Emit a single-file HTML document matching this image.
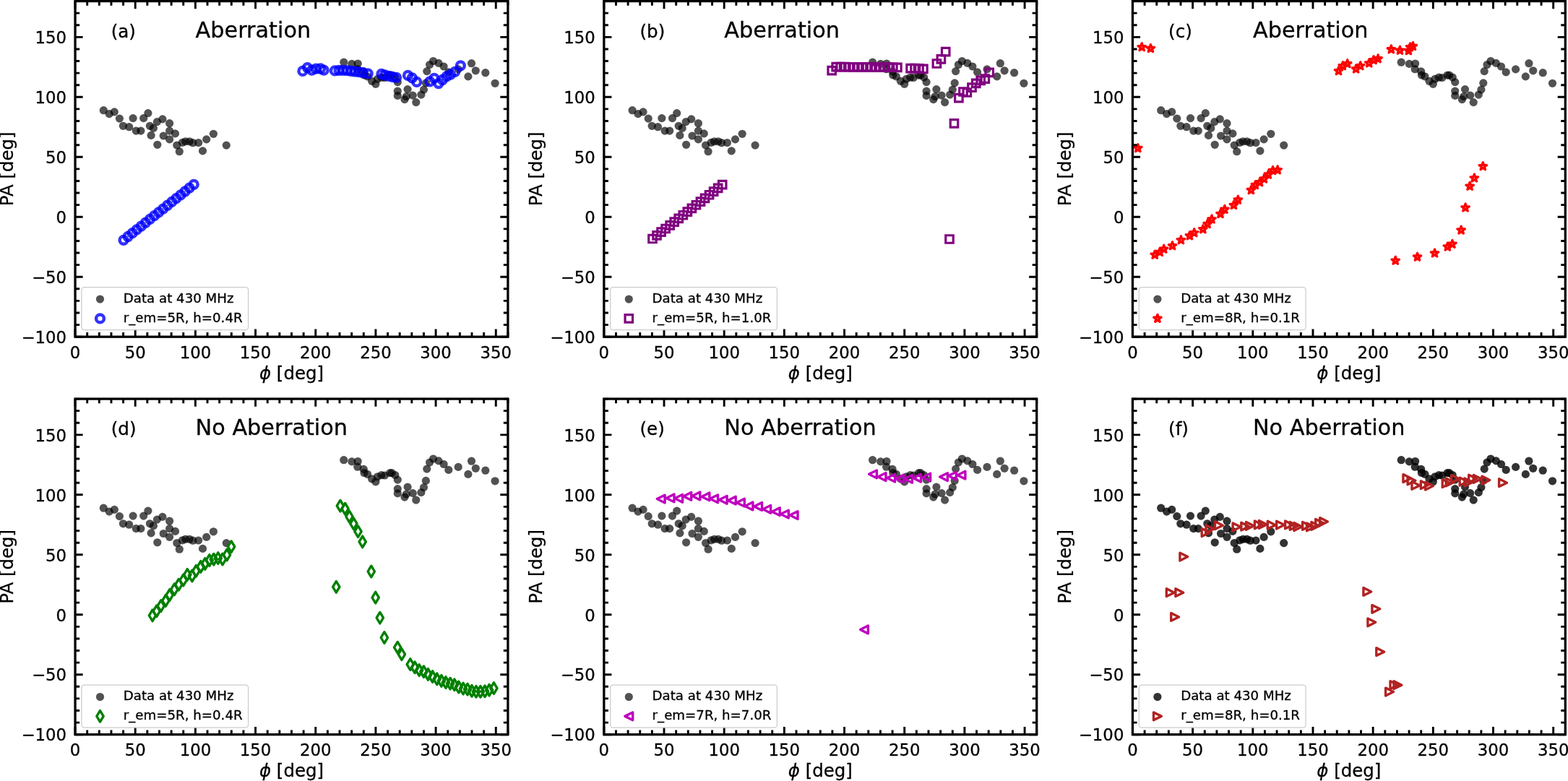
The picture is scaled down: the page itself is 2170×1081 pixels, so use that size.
<!DOCTYPE html>
<html><head><meta charset="utf-8"><title>PA vs phi</title><style>html,body{margin:0;padding:0;background:#fff;overflow:hidden}svg{display:block}</style></head><body>
<svg width="2170" height="1081" viewBox="0 0 2170 1081" font-family="'DejaVu Sans', sans-serif">
<rect width="2170" height="1081" fill="#ffffff"/>
<style>text{stroke:#000;stroke-width:0.3px;paint-order:stroke}</style>
<defs>
<clipPath id="clip00"><rect x="104.05" y="1.58" width="598.86" height="464.6"/></clipPath>
<clipPath id="clip01"><rect x="104.05" y="552.08" width="598.86" height="464.6"/></clipPath>
<clipPath id="clip10"><rect x="835.85" y="1.58" width="598.86" height="464.6"/></clipPath>
<clipPath id="clip11"><rect x="835.85" y="552.08" width="598.86" height="464.6"/></clipPath>
<clipPath id="clip20"><rect x="1567.45" y="1.58" width="598.86" height="464.6"/></clipPath>
<clipPath id="clip21"><rect x="1567.45" y="552.08" width="598.86" height="464.6"/></clipPath>
</defs>
<g clip-path="url(#clip00)">
<circle cx="143.3" cy="152.7" r="5.6" fill="#000" fill-opacity="0.68"/>
<circle cx="151.2" cy="157.6" r="5.6" fill="#000" fill-opacity="0.68"/>
<circle cx="158.3" cy="154.9" r="5.6" fill="#000" fill-opacity="0.68"/>
<circle cx="165.4" cy="164.1" r="5.6" fill="#000" fill-opacity="0.68"/>
<circle cx="184.1" cy="163.6" r="5.6" fill="#000" fill-opacity="0.68"/>
<circle cx="170.4" cy="174.3" r="5.6" fill="#000" fill-opacity="0.68"/>
<circle cx="178.7" cy="175.7" r="5.6" fill="#000" fill-opacity="0.68"/>
<circle cx="188.3" cy="181.1" r="5.6" fill="#000" fill-opacity="0.68"/>
<circle cx="194.9" cy="181.1" r="5.6" fill="#000" fill-opacity="0.68"/>
<circle cx="198.7" cy="163.6" r="5.6" fill="#000" fill-opacity="0.68"/>
<circle cx="204.9" cy="156.6" r="5.6" fill="#000" fill-opacity="0.68"/>
<circle cx="207.4" cy="174.3" r="5.6" fill="#000" fill-opacity="0.68"/>
<circle cx="212.4" cy="177.4" r="5.6" fill="#000" fill-opacity="0.68"/>
<circle cx="209.1" cy="187.4" r="5.6" fill="#000" fill-opacity="0.68"/>
<circle cx="217.4" cy="168.6" r="5.6" fill="#000" fill-opacity="0.68"/>
<circle cx="217.8" cy="200.3" r="5.6" fill="#000" fill-opacity="0.68"/>
<circle cx="224.9" cy="164.9" r="5.6" fill="#000" fill-opacity="0.68"/>
<circle cx="226.2" cy="188" r="5.6" fill="#000" fill-opacity="0.68"/>
<circle cx="234.6" cy="170.7" r="5.6" fill="#000" fill-opacity="0.68"/>
<circle cx="234.6" cy="181.1" r="5.6" fill="#000" fill-opacity="0.68"/>
<circle cx="242.5" cy="184.9" r="5.6" fill="#000" fill-opacity="0.68"/>
<circle cx="234.6" cy="192.8" r="5.6" fill="#000" fill-opacity="0.68"/>
<circle cx="244.8" cy="201" r="5.6" fill="#000" fill-opacity="0.68"/>
<circle cx="248.3" cy="209.7" r="5.6" fill="#000" fill-opacity="0.68"/>
<circle cx="252.4" cy="197.3" r="5.6" fill="#000" fill-opacity="0.68"/>
<circle cx="256.8" cy="195.8" r="5.6" fill="#000" fill-opacity="0.68"/>
<circle cx="262.3" cy="195.8" r="5.6" fill="#000" fill-opacity="0.68"/>
<circle cx="266.9" cy="197.7" r="5.6" fill="#000" fill-opacity="0.68"/>
<circle cx="274.6" cy="197.5" r="5.6" fill="#000" fill-opacity="0.68"/>
<circle cx="280.5" cy="208.9" r="5.6" fill="#000" fill-opacity="0.68"/>
<circle cx="285.7" cy="192.9" r="5.6" fill="#000" fill-opacity="0.68"/>
<circle cx="295.4" cy="185.3" r="5.6" fill="#000" fill-opacity="0.68"/>
<circle cx="313.3" cy="201.1" r="5.6" fill="#000" fill-opacity="0.68"/>
<circle cx="475.8" cy="86.2" r="5.6" fill="#000" fill-opacity="0.68"/>
<circle cx="486.9" cy="88.4" r="5.6" fill="#000" fill-opacity="0.68"/>
<circle cx="495.2" cy="88" r="5.6" fill="#000" fill-opacity="0.68"/>
<circle cx="494.8" cy="95.7" r="5.6" fill="#000" fill-opacity="0.68"/>
<circle cx="503.3" cy="98.9" r="5.6" fill="#000" fill-opacity="0.68"/>
<circle cx="504" cy="104" r="5.6" fill="#000" fill-opacity="0.68"/>
<circle cx="508.5" cy="105.8" r="5.6" fill="#000" fill-opacity="0.68"/>
<circle cx="514.6" cy="112.3" r="5.6" fill="#000" fill-opacity="0.68"/>
<circle cx="519.9" cy="116.3" r="5.6" fill="#000" fill-opacity="0.68"/>
<circle cx="522.5" cy="109.3" r="5.6" fill="#000" fill-opacity="0.68"/>
<circle cx="527.9" cy="107.2" r="5.6" fill="#000" fill-opacity="0.68"/>
<circle cx="532.4" cy="107.5" r="5.6" fill="#000" fill-opacity="0.68"/>
<circle cx="539.6" cy="104.1" r="5.6" fill="#000" fill-opacity="0.68"/>
<circle cx="542.4" cy="104.1" r="5.6" fill="#000" fill-opacity="0.68"/>
<circle cx="546.8" cy="107" r="5.6" fill="#000" fill-opacity="0.68"/>
<circle cx="550.3" cy="113.6" r="5.6" fill="#000" fill-opacity="0.68"/>
<circle cx="550.3" cy="126.1" r="5.6" fill="#000" fill-opacity="0.68"/>
<circle cx="550.3" cy="132.4" r="5.6" fill="#000" fill-opacity="0.68"/>
<circle cx="564.1" cy="123.6" r="5.6" fill="#000" fill-opacity="0.68"/>
<circle cx="562.3" cy="133.5" r="5.6" fill="#000" fill-opacity="0.68"/>
<circle cx="560" cy="137.6" r="5.6" fill="#000" fill-opacity="0.68"/>
<circle cx="571.3" cy="132.1" r="5.6" fill="#000" fill-opacity="0.68"/>
<circle cx="575.8" cy="141.6" r="5.6" fill="#000" fill-opacity="0.68"/>
<circle cx="582.9" cy="131.1" r="5.6" fill="#000" fill-opacity="0.68"/>
<circle cx="586.5" cy="124.1" r="5.6" fill="#000" fill-opacity="0.68"/>
<circle cx="589.4" cy="114.9" r="5.6" fill="#000" fill-opacity="0.68"/>
<circle cx="590.8" cy="98.6" r="5.6" fill="#000" fill-opacity="0.68"/>
<circle cx="594.6" cy="89.5" r="5.6" fill="#000" fill-opacity="0.68"/>
<circle cx="599.6" cy="84.5" r="5.6" fill="#000" fill-opacity="0.68"/>
<circle cx="607" cy="87.4" r="5.6" fill="#000" fill-opacity="0.68"/>
<circle cx="614.1" cy="92" r="5.6" fill="#000" fill-opacity="0.68"/>
<circle cx="620.8" cy="99.9" r="5.6" fill="#000" fill-opacity="0.68"/>
<circle cx="634.2" cy="95.9" r="5.6" fill="#000" fill-opacity="0.68"/>
<circle cx="652.5" cy="87.7" r="5.6" fill="#000" fill-opacity="0.68"/>
<circle cx="658.3" cy="97.8" r="5.6" fill="#000" fill-opacity="0.68"/>
<circle cx="647.9" cy="105.9" r="5.6" fill="#000" fill-opacity="0.68"/>
<circle cx="671.8" cy="100.7" r="5.6" fill="#000" fill-opacity="0.68"/>
<circle cx="685.1" cy="115.3" r="5.6" fill="#000" fill-opacity="0.68"/>
<circle cx="171" cy="332.3" r="5.4" fill="none" stroke="#0000ff" stroke-width="4.5" stroke-opacity="0.8"/>
<circle cx="177.07" cy="327.49" r="5.4" fill="none" stroke="#0000ff" stroke-width="4.5" stroke-opacity="0.8"/>
<circle cx="183.15" cy="322.69" r="5.4" fill="none" stroke="#0000ff" stroke-width="4.5" stroke-opacity="0.8"/>
<circle cx="189.22" cy="317.88" r="5.4" fill="none" stroke="#0000ff" stroke-width="4.5" stroke-opacity="0.8"/>
<circle cx="195.3" cy="313.07" r="5.4" fill="none" stroke="#0000ff" stroke-width="4.5" stroke-opacity="0.8"/>
<circle cx="201.38" cy="308.27" r="5.4" fill="none" stroke="#0000ff" stroke-width="4.5" stroke-opacity="0.8"/>
<circle cx="207.45" cy="303.46" r="5.4" fill="none" stroke="#0000ff" stroke-width="4.5" stroke-opacity="0.8"/>
<circle cx="213.52" cy="298.66" r="5.4" fill="none" stroke="#0000ff" stroke-width="4.5" stroke-opacity="0.8"/>
<circle cx="219.6" cy="293.85" r="5.4" fill="none" stroke="#0000ff" stroke-width="4.5" stroke-opacity="0.8"/>
<circle cx="225.68" cy="289.04" r="5.4" fill="none" stroke="#0000ff" stroke-width="4.5" stroke-opacity="0.8"/>
<circle cx="231.75" cy="284.24" r="5.4" fill="none" stroke="#0000ff" stroke-width="4.5" stroke-opacity="0.8"/>
<circle cx="237.82" cy="279.43" r="5.4" fill="none" stroke="#0000ff" stroke-width="4.5" stroke-opacity="0.8"/>
<circle cx="243.9" cy="274.62" r="5.4" fill="none" stroke="#0000ff" stroke-width="4.5" stroke-opacity="0.8"/>
<circle cx="249.97" cy="269.82" r="5.4" fill="none" stroke="#0000ff" stroke-width="4.5" stroke-opacity="0.8"/>
<circle cx="256.05" cy="265.01" r="5.4" fill="none" stroke="#0000ff" stroke-width="4.5" stroke-opacity="0.8"/>
<circle cx="262.12" cy="260.21" r="5.4" fill="none" stroke="#0000ff" stroke-width="4.5" stroke-opacity="0.8"/>
<circle cx="268.2" cy="255.4" r="5.4" fill="none" stroke="#0000ff" stroke-width="4.5" stroke-opacity="0.8"/>
<circle cx="418.9" cy="98.4" r="5.4" fill="none" stroke="#0000ff" stroke-width="4.5" stroke-opacity="0.8"/>
<circle cx="425.4" cy="93.6" r="5.4" fill="none" stroke="#0000ff" stroke-width="4.5" stroke-opacity="0.8"/>
<circle cx="431.6" cy="97.2" r="5.4" fill="none" stroke="#0000ff" stroke-width="4.5" stroke-opacity="0.8"/>
<circle cx="437.4" cy="95.2" r="5.4" fill="none" stroke="#0000ff" stroke-width="4.5" stroke-opacity="0.8"/>
<circle cx="443.5" cy="95" r="5.4" fill="none" stroke="#0000ff" stroke-width="4.5" stroke-opacity="0.8"/>
<circle cx="448.2" cy="97.2" r="5.4" fill="none" stroke="#0000ff" stroke-width="4.5" stroke-opacity="0.8"/>
<circle cx="463.4" cy="97.9" r="5.4" fill="none" stroke="#0000ff" stroke-width="4.5" stroke-opacity="0.8"/>
<circle cx="469.1" cy="97.4" r="5.4" fill="none" stroke="#0000ff" stroke-width="4.5" stroke-opacity="0.8"/>
<circle cx="474.7" cy="97.4" r="5.4" fill="none" stroke="#0000ff" stroke-width="4.5" stroke-opacity="0.8"/>
<circle cx="480.2" cy="97.7" r="5.4" fill="none" stroke="#0000ff" stroke-width="4.5" stroke-opacity="0.8"/>
<circle cx="485.7" cy="98.3" r="5.4" fill="none" stroke="#0000ff" stroke-width="4.5" stroke-opacity="0.8"/>
<circle cx="491.2" cy="99" r="5.4" fill="none" stroke="#0000ff" stroke-width="4.5" stroke-opacity="0.8"/>
<circle cx="496.8" cy="99.7" r="5.4" fill="none" stroke="#0000ff" stroke-width="4.5" stroke-opacity="0.8"/>
<circle cx="502.3" cy="100.7" r="5.4" fill="none" stroke="#0000ff" stroke-width="4.5" stroke-opacity="0.8"/>
<circle cx="509.2" cy="101.8" r="5.4" fill="none" stroke="#0000ff" stroke-width="4.5" stroke-opacity="0.8"/>
<circle cx="527.9" cy="102.5" r="5.4" fill="none" stroke="#0000ff" stroke-width="4.5" stroke-opacity="0.8"/>
<circle cx="532.7" cy="103.9" r="5.4" fill="none" stroke="#0000ff" stroke-width="4.5" stroke-opacity="0.8"/>
<circle cx="538.3" cy="105.3" r="5.4" fill="none" stroke="#0000ff" stroke-width="4.5" stroke-opacity="0.8"/>
<circle cx="543.8" cy="106.6" r="5.4" fill="none" stroke="#0000ff" stroke-width="4.5" stroke-opacity="0.8"/>
<circle cx="548.6" cy="107.3" r="5.4" fill="none" stroke="#0000ff" stroke-width="4.5" stroke-opacity="0.8"/>
<circle cx="564.5" cy="104.4" r="5.4" fill="none" stroke="#0000ff" stroke-width="4.5" stroke-opacity="0.8"/>
<circle cx="570.4" cy="107.8" r="5.4" fill="none" stroke="#0000ff" stroke-width="4.5" stroke-opacity="0.8"/>
<circle cx="576.7" cy="113.4" r="5.4" fill="none" stroke="#0000ff" stroke-width="4.5" stroke-opacity="0.8"/>
<circle cx="594.8" cy="112.8" r="5.4" fill="none" stroke="#0000ff" stroke-width="4.5" stroke-opacity="0.8"/>
<circle cx="600.9" cy="108.4" r="5.4" fill="none" stroke="#0000ff" stroke-width="4.5" stroke-opacity="0.8"/>
<circle cx="606.9" cy="115.5" r="5.4" fill="none" stroke="#0000ff" stroke-width="4.5" stroke-opacity="0.8"/>
<circle cx="612.4" cy="110.5" r="5.4" fill="none" stroke="#0000ff" stroke-width="4.5" stroke-opacity="0.8"/>
<circle cx="618" cy="105.9" r="5.4" fill="none" stroke="#0000ff" stroke-width="4.5" stroke-opacity="0.8"/>
<circle cx="623.5" cy="103.1" r="5.4" fill="none" stroke="#0000ff" stroke-width="4.5" stroke-opacity="0.8"/>
<circle cx="629.6" cy="99.4" r="5.4" fill="none" stroke="#0000ff" stroke-width="4.5" stroke-opacity="0.8"/>
<circle cx="637.4" cy="90.8" r="5.4" fill="none" stroke="#0000ff" stroke-width="4.5" stroke-opacity="0.8"/>
</g>
<path d="M104.05 466.18v-10.6M104.05 1.58v10.6M120.69 466.18v-6.1M120.69 1.58v6.1M137.32 466.18v-6.1M137.32 1.58v6.1M153.95 466.18v-6.1M153.95 1.58v6.1M170.59 466.18v-6.1M170.59 1.58v6.1M187.22 466.18v-10.6M187.22 1.58v10.6M203.86 466.18v-6.1M203.86 1.58v6.1M220.5 466.18v-6.1M220.5 1.58v6.1M237.13 466.18v-6.1M237.13 1.58v6.1M253.76 466.18v-6.1M253.76 1.58v6.1M270.4 466.18v-10.6M270.4 1.58v10.6M287.03 466.18v-6.1M287.03 1.58v6.1M303.67 466.18v-6.1M303.67 1.58v6.1M320.31 466.18v-6.1M320.31 1.58v6.1M336.94 466.18v-6.1M336.94 1.58v6.1M353.57 466.18v-10.6M353.57 1.58v10.6M370.21 466.18v-6.1M370.21 1.58v6.1M386.85 466.18v-6.1M386.85 1.58v6.1M403.48 466.18v-6.1M403.48 1.58v6.1M420.12 466.18v-6.1M420.12 1.58v6.1M436.75 466.18v-10.6M436.75 1.58v10.6M453.38 466.18v-6.1M453.38 1.58v6.1M470.02 466.18v-6.1M470.02 1.58v6.1M486.66 466.18v-6.1M486.66 1.58v6.1M503.29 466.18v-6.1M503.29 1.58v6.1M519.92 466.18v-10.6M519.92 1.58v10.6M536.56 466.18v-6.1M536.56 1.58v6.1M553.19 466.18v-6.1M553.19 1.58v6.1M569.83 466.18v-6.1M569.83 1.58v6.1M586.47 466.18v-6.1M586.47 1.58v6.1M603.1 466.18v-10.6M603.1 1.58v10.6M619.73 466.18v-6.1M619.73 1.58v6.1M636.37 466.18v-6.1M636.37 1.58v6.1M653 466.18v-6.1M653 1.58v6.1M669.64 466.18v-6.1M669.64 1.58v6.1M686.27 466.18v-10.6M686.27 1.58v10.6M702.91 466.18v-6.1M702.91 1.58v6.1M104.05 466.18h10.6M702.91 466.18h-10.6M104.05 449.59h6.1M702.91 449.59h-6.1M104.05 432.99h6.1M702.91 432.99h-6.1M104.05 416.4h6.1M702.91 416.4h-6.1M104.05 399.81h6.1M702.91 399.81h-6.1M104.05 383.22h10.6M702.91 383.22h-10.6M104.05 366.62h6.1M702.91 366.62h-6.1M104.05 350.03h6.1M702.91 350.03h-6.1M104.05 333.44h6.1M702.91 333.44h-6.1M104.05 316.84h6.1M702.91 316.84h-6.1M104.05 300.25h10.6M702.91 300.25h-10.6M104.05 283.66h6.1M702.91 283.66h-6.1M104.05 267.06h6.1M702.91 267.06h-6.1M104.05 250.47h6.1M702.91 250.47h-6.1M104.05 233.88h6.1M702.91 233.88h-6.1M104.05 217.28h10.6M702.91 217.28h-10.6M104.05 200.69h6.1M702.91 200.69h-6.1M104.05 184.1h6.1M702.91 184.1h-6.1M104.05 167.51h6.1M702.91 167.51h-6.1M104.05 150.91h6.1M702.91 150.91h-6.1M104.05 134.32h10.6M702.91 134.32h-10.6M104.05 117.73h6.1M702.91 117.73h-6.1M104.05 101.13h6.1M702.91 101.13h-6.1M104.05 84.54h6.1M702.91 84.54h-6.1M104.05 67.95h6.1M702.91 67.95h-6.1M104.05 51.35h10.6M702.91 51.35h-10.6M104.05 34.76h6.1M702.91 34.76h-6.1M104.05 18.17h6.1M702.91 18.17h-6.1M104.05 1.58h6.1M702.91 1.58h-6.1" stroke="#000" stroke-width="2.9" fill="none"/>
<rect x="104.05" y="1.58" width="598.86" height="464.6" fill="none" stroke="#000" stroke-width="3.3" stroke-linejoin="miter"/>
<text x="104.05" y="495.98" font-size="22.8" text-anchor="middle">0</text>
<text x="187.22" y="495.98" font-size="22.8" text-anchor="middle">50</text>
<text x="270.4" y="495.98" font-size="22.8" text-anchor="middle">100</text>
<text x="353.57" y="495.98" font-size="22.8" text-anchor="middle">150</text>
<text x="436.75" y="495.98" font-size="22.8" text-anchor="middle">200</text>
<text x="519.92" y="495.98" font-size="22.8" text-anchor="middle">250</text>
<text x="603.1" y="495.98" font-size="22.8" text-anchor="middle">300</text>
<text x="686.27" y="495.98" font-size="22.8" text-anchor="middle">350</text>
<text x="92" y="474.93" font-size="22.8" text-anchor="end">−100</text>
<text x="92" y="391.97" font-size="22.8" text-anchor="end">−50</text>
<text x="92" y="309" font-size="22.8" text-anchor="end">0</text>
<text x="92" y="226.03" font-size="22.8" text-anchor="end">50</text>
<text x="92" y="143.07" font-size="22.8" text-anchor="end">100</text>
<text x="92" y="60.1" font-size="22.8" text-anchor="end">150</text>
<text x="403.48" y="524.58" font-size="24.45" text-anchor="middle"><tspan font-style="italic">ϕ</tspan> [deg]</text>
<text transform="translate(18.3 233.88) rotate(-90)" font-size="24.45" text-anchor="middle">PA [deg]</text>
<text x="153.7" y="51.88" font-size="24.6">(a)</text>
<text x="270.55" y="51.88" font-size="30.3">Aberration</text>
<rect x="112.9" y="397.68" width="230.7" height="59" rx="3.6" ry="3.6" fill="#fff" fill-opacity="0.8" stroke="#cccccc" stroke-width="1.25"/>
<circle cx="138.5" cy="414.08" r="5.6" fill="#000" fill-opacity="0.68"/>
<circle cx="138.5" cy="440.88" r="5.4" fill="none" stroke="#0000ff" stroke-width="4.5" stroke-opacity="0.8"/>
<text x="170.8" y="418.78" font-size="18.2">Data at 430 MHz</text>
<text x="170.8" y="445.88" font-size="18.2">r_em=5R, h=0.4R</text>
<g clip-path="url(#clip10)">
<circle cx="875.1" cy="152.7" r="5.6" fill="#000" fill-opacity="0.68"/>
<circle cx="883" cy="157.6" r="5.6" fill="#000" fill-opacity="0.68"/>
<circle cx="890.1" cy="154.9" r="5.6" fill="#000" fill-opacity="0.68"/>
<circle cx="897.2" cy="164.1" r="5.6" fill="#000" fill-opacity="0.68"/>
<circle cx="915.9" cy="163.6" r="5.6" fill="#000" fill-opacity="0.68"/>
<circle cx="902.2" cy="174.3" r="5.6" fill="#000" fill-opacity="0.68"/>
<circle cx="910.5" cy="175.7" r="5.6" fill="#000" fill-opacity="0.68"/>
<circle cx="920.1" cy="181.1" r="5.6" fill="#000" fill-opacity="0.68"/>
<circle cx="926.7" cy="181.1" r="5.6" fill="#000" fill-opacity="0.68"/>
<circle cx="930.5" cy="163.6" r="5.6" fill="#000" fill-opacity="0.68"/>
<circle cx="936.7" cy="156.6" r="5.6" fill="#000" fill-opacity="0.68"/>
<circle cx="939.2" cy="174.3" r="5.6" fill="#000" fill-opacity="0.68"/>
<circle cx="944.2" cy="177.4" r="5.6" fill="#000" fill-opacity="0.68"/>
<circle cx="940.9" cy="187.4" r="5.6" fill="#000" fill-opacity="0.68"/>
<circle cx="949.2" cy="168.6" r="5.6" fill="#000" fill-opacity="0.68"/>
<circle cx="949.6" cy="200.3" r="5.6" fill="#000" fill-opacity="0.68"/>
<circle cx="956.7" cy="164.9" r="5.6" fill="#000" fill-opacity="0.68"/>
<circle cx="958" cy="188" r="5.6" fill="#000" fill-opacity="0.68"/>
<circle cx="966.4" cy="170.7" r="5.6" fill="#000" fill-opacity="0.68"/>
<circle cx="966.4" cy="181.1" r="5.6" fill="#000" fill-opacity="0.68"/>
<circle cx="974.3" cy="184.9" r="5.6" fill="#000" fill-opacity="0.68"/>
<circle cx="966.4" cy="192.8" r="5.6" fill="#000" fill-opacity="0.68"/>
<circle cx="976.6" cy="201" r="5.6" fill="#000" fill-opacity="0.68"/>
<circle cx="980.1" cy="209.7" r="5.6" fill="#000" fill-opacity="0.68"/>
<circle cx="984.2" cy="197.3" r="5.6" fill="#000" fill-opacity="0.68"/>
<circle cx="988.6" cy="195.8" r="5.6" fill="#000" fill-opacity="0.68"/>
<circle cx="994.1" cy="195.8" r="5.6" fill="#000" fill-opacity="0.68"/>
<circle cx="998.7" cy="197.7" r="5.6" fill="#000" fill-opacity="0.68"/>
<circle cx="1006.4" cy="197.5" r="5.6" fill="#000" fill-opacity="0.68"/>
<circle cx="1012.3" cy="208.9" r="5.6" fill="#000" fill-opacity="0.68"/>
<circle cx="1017.5" cy="192.9" r="5.6" fill="#000" fill-opacity="0.68"/>
<circle cx="1027.2" cy="185.3" r="5.6" fill="#000" fill-opacity="0.68"/>
<circle cx="1045.1" cy="201.1" r="5.6" fill="#000" fill-opacity="0.68"/>
<circle cx="1207.6" cy="86.2" r="5.6" fill="#000" fill-opacity="0.68"/>
<circle cx="1218.7" cy="88.4" r="5.6" fill="#000" fill-opacity="0.68"/>
<circle cx="1227" cy="88" r="5.6" fill="#000" fill-opacity="0.68"/>
<circle cx="1226.6" cy="95.7" r="5.6" fill="#000" fill-opacity="0.68"/>
<circle cx="1235.1" cy="98.9" r="5.6" fill="#000" fill-opacity="0.68"/>
<circle cx="1235.8" cy="104" r="5.6" fill="#000" fill-opacity="0.68"/>
<circle cx="1240.3" cy="105.8" r="5.6" fill="#000" fill-opacity="0.68"/>
<circle cx="1246.4" cy="112.3" r="5.6" fill="#000" fill-opacity="0.68"/>
<circle cx="1251.7" cy="116.3" r="5.6" fill="#000" fill-opacity="0.68"/>
<circle cx="1254.3" cy="109.3" r="5.6" fill="#000" fill-opacity="0.68"/>
<circle cx="1259.7" cy="107.2" r="5.6" fill="#000" fill-opacity="0.68"/>
<circle cx="1264.2" cy="107.5" r="5.6" fill="#000" fill-opacity="0.68"/>
<circle cx="1271.4" cy="104.1" r="5.6" fill="#000" fill-opacity="0.68"/>
<circle cx="1274.2" cy="104.1" r="5.6" fill="#000" fill-opacity="0.68"/>
<circle cx="1278.6" cy="107" r="5.6" fill="#000" fill-opacity="0.68"/>
<circle cx="1282.1" cy="113.6" r="5.6" fill="#000" fill-opacity="0.68"/>
<circle cx="1282.1" cy="126.1" r="5.6" fill="#000" fill-opacity="0.68"/>
<circle cx="1282.1" cy="132.4" r="5.6" fill="#000" fill-opacity="0.68"/>
<circle cx="1295.9" cy="123.6" r="5.6" fill="#000" fill-opacity="0.68"/>
<circle cx="1294.1" cy="133.5" r="5.6" fill="#000" fill-opacity="0.68"/>
<circle cx="1291.8" cy="137.6" r="5.6" fill="#000" fill-opacity="0.68"/>
<circle cx="1303.1" cy="132.1" r="5.6" fill="#000" fill-opacity="0.68"/>
<circle cx="1307.6" cy="141.6" r="5.6" fill="#000" fill-opacity="0.68"/>
<circle cx="1314.7" cy="131.1" r="5.6" fill="#000" fill-opacity="0.68"/>
<circle cx="1318.3" cy="124.1" r="5.6" fill="#000" fill-opacity="0.68"/>
<circle cx="1321.2" cy="114.9" r="5.6" fill="#000" fill-opacity="0.68"/>
<circle cx="1322.6" cy="98.6" r="5.6" fill="#000" fill-opacity="0.68"/>
<circle cx="1326.4" cy="89.5" r="5.6" fill="#000" fill-opacity="0.68"/>
<circle cx="1331.4" cy="84.5" r="5.6" fill="#000" fill-opacity="0.68"/>
<circle cx="1338.8" cy="87.4" r="5.6" fill="#000" fill-opacity="0.68"/>
<circle cx="1345.9" cy="92" r="5.6" fill="#000" fill-opacity="0.68"/>
<circle cx="1352.6" cy="99.9" r="5.6" fill="#000" fill-opacity="0.68"/>
<circle cx="1366" cy="95.9" r="5.6" fill="#000" fill-opacity="0.68"/>
<circle cx="1384.3" cy="87.7" r="5.6" fill="#000" fill-opacity="0.68"/>
<circle cx="1390.1" cy="97.8" r="5.6" fill="#000" fill-opacity="0.68"/>
<circle cx="1379.7" cy="105.9" r="5.6" fill="#000" fill-opacity="0.68"/>
<circle cx="1403.6" cy="100.7" r="5.6" fill="#000" fill-opacity="0.68"/>
<circle cx="1416.9" cy="115.3" r="5.6" fill="#000" fill-opacity="0.68"/>
<path d="M897.75 325.25 L908.25 325.25 L908.25 335.75 L897.75 335.75 Z" fill="none" stroke="#800080" stroke-width="3.2" stroke-linejoin="miter"/>
<path d="M903.79 320.57 L914.29 320.57 L914.29 331.07 L903.79 331.07 Z" fill="none" stroke="#800080" stroke-width="3.2" stroke-linejoin="miter"/>
<path d="M909.84 315.9 L920.34 315.9 L920.34 326.4 L909.84 326.4 Z" fill="none" stroke="#800080" stroke-width="3.2" stroke-linejoin="miter"/>
<path d="M915.88 311.23 L926.38 311.23 L926.38 321.73 L915.88 321.73 Z" fill="none" stroke="#800080" stroke-width="3.2" stroke-linejoin="miter"/>
<path d="M921.92 306.55 L932.42 306.55 L932.42 317.05 L921.92 317.05 Z" fill="none" stroke="#800080" stroke-width="3.2" stroke-linejoin="miter"/>
<path d="M927.97 301.88 L938.47 301.88 L938.47 312.38 L927.97 312.38 Z" fill="none" stroke="#800080" stroke-width="3.2" stroke-linejoin="miter"/>
<path d="M934.01 297.2 L944.51 297.2 L944.51 307.7 L934.01 307.7 Z" fill="none" stroke="#800080" stroke-width="3.2" stroke-linejoin="miter"/>
<path d="M940.06 292.52 L950.56 292.52 L950.56 303.02 L940.06 303.02 Z" fill="none" stroke="#800080" stroke-width="3.2" stroke-linejoin="miter"/>
<path d="M946.1 287.85 L956.6 287.85 L956.6 298.35 L946.1 298.35 Z" fill="none" stroke="#800080" stroke-width="3.2" stroke-linejoin="miter"/>
<path d="M952.14 283.18 L962.64 283.18 L962.64 293.68 L952.14 293.68 Z" fill="none" stroke="#800080" stroke-width="3.2" stroke-linejoin="miter"/>
<path d="M958.19 278.5 L968.69 278.5 L968.69 289 L958.19 289 Z" fill="none" stroke="#800080" stroke-width="3.2" stroke-linejoin="miter"/>
<path d="M964.23 273.82 L974.73 273.82 L974.73 284.32 L964.23 284.32 Z" fill="none" stroke="#800080" stroke-width="3.2" stroke-linejoin="miter"/>
<path d="M970.28 269.15 L980.78 269.15 L980.78 279.65 L970.28 279.65 Z" fill="none" stroke="#800080" stroke-width="3.2" stroke-linejoin="miter"/>
<path d="M976.32 264.48 L986.82 264.48 L986.82 274.98 L976.32 274.98 Z" fill="none" stroke="#800080" stroke-width="3.2" stroke-linejoin="miter"/>
<path d="M982.36 259.8 L992.86 259.8 L992.86 270.3 L982.36 270.3 Z" fill="none" stroke="#800080" stroke-width="3.2" stroke-linejoin="miter"/>
<path d="M988.41 255.12 L998.91 255.12 L998.91 265.62 L988.41 265.62 Z" fill="none" stroke="#800080" stroke-width="3.2" stroke-linejoin="miter"/>
<path d="M994.45 250.45 L1004.95 250.45 L1004.95 260.95 L994.45 260.95 Z" fill="none" stroke="#800080" stroke-width="3.2" stroke-linejoin="miter"/>
<path d="M1145.95 92.45 L1156.45 92.45 L1156.45 102.95 L1145.95 102.95 Z" fill="none" stroke="#800080" stroke-width="3.2" stroke-linejoin="miter"/>
<path d="M1151.95 87.35 L1162.45 87.35 L1162.45 97.85 L1151.95 97.85 Z" fill="none" stroke="#800080" stroke-width="3.2" stroke-linejoin="miter"/>
<path d="M1158 87.4 L1168.5 87.4 L1168.5 97.9 L1158 97.9 Z" fill="none" stroke="#800080" stroke-width="3.2" stroke-linejoin="miter"/>
<path d="M1164.05 87.45 L1174.55 87.45 L1174.55 97.95 L1164.05 97.95 Z" fill="none" stroke="#800080" stroke-width="3.2" stroke-linejoin="miter"/>
<path d="M1170.1 87.5 L1180.6 87.5 L1180.6 98 L1170.1 98 Z" fill="none" stroke="#800080" stroke-width="3.2" stroke-linejoin="miter"/>
<path d="M1176.15 87.55 L1186.65 87.55 L1186.65 98.05 L1176.15 98.05 Z" fill="none" stroke="#800080" stroke-width="3.2" stroke-linejoin="miter"/>
<path d="M1182.2 87.6 L1192.7 87.6 L1192.7 98.1 L1182.2 98.1 Z" fill="none" stroke="#800080" stroke-width="3.2" stroke-linejoin="miter"/>
<path d="M1188.25 87.65 L1198.75 87.65 L1198.75 98.15 L1188.25 98.15 Z" fill="none" stroke="#800080" stroke-width="3.2" stroke-linejoin="miter"/>
<path d="M1194.3 87.7 L1204.8 87.7 L1204.8 98.2 L1194.3 98.2 Z" fill="none" stroke="#800080" stroke-width="3.2" stroke-linejoin="miter"/>
<path d="M1200.35 87.75 L1210.85 87.75 L1210.85 98.25 L1200.35 98.25 Z" fill="none" stroke="#800080" stroke-width="3.2" stroke-linejoin="miter"/>
<path d="M1206.4 87.8 L1216.9 87.8 L1216.9 98.3 L1206.4 98.3 Z" fill="none" stroke="#800080" stroke-width="3.2" stroke-linejoin="miter"/>
<path d="M1212.45 87.85 L1222.95 87.85 L1222.95 98.35 L1212.45 98.35 Z" fill="none" stroke="#800080" stroke-width="3.2" stroke-linejoin="miter"/>
<path d="M1218.5 87.9 L1229 87.9 L1229 98.4 L1218.5 98.4 Z" fill="none" stroke="#800080" stroke-width="3.2" stroke-linejoin="miter"/>
<path d="M1224.55 87.95 L1235.05 87.95 L1235.05 98.45 L1224.55 98.45 Z" fill="none" stroke="#800080" stroke-width="3.2" stroke-linejoin="miter"/>
<path d="M1230.6 88 L1241.1 88 L1241.1 98.5 L1230.6 98.5 Z" fill="none" stroke="#800080" stroke-width="3.2" stroke-linejoin="miter"/>
<path d="M1236.65 88.05 L1247.15 88.05 L1247.15 98.55 L1236.65 98.55 Z" fill="none" stroke="#800080" stroke-width="3.2" stroke-linejoin="miter"/>
<path d="M1254.85 89.45 L1265.35 89.45 L1265.35 99.95 L1254.85 99.95 Z" fill="none" stroke="#800080" stroke-width="3.2" stroke-linejoin="miter"/>
<path d="M1260.75 89.45 L1271.25 89.45 L1271.25 99.95 L1260.75 99.95 Z" fill="none" stroke="#800080" stroke-width="3.2" stroke-linejoin="miter"/>
<path d="M1266.75 89.65 L1277.25 89.65 L1277.25 100.15 L1266.75 100.15 Z" fill="none" stroke="#800080" stroke-width="3.2" stroke-linejoin="miter"/>
<path d="M1272.65 90.05 L1283.15 90.05 L1283.15 100.55 L1272.65 100.55 Z" fill="none" stroke="#800080" stroke-width="3.2" stroke-linejoin="miter"/>
<path d="M1291.15 82.75 L1301.65 82.75 L1301.65 93.25 L1291.15 93.25 Z" fill="none" stroke="#800080" stroke-width="3.2" stroke-linejoin="miter"/>
<path d="M1297.15 76.65 L1307.65 76.65 L1307.65 87.15 L1297.15 87.15 Z" fill="none" stroke="#800080" stroke-width="3.2" stroke-linejoin="miter"/>
<path d="M1303.45 66.45 L1313.95 66.45 L1313.95 76.95 L1303.45 76.95 Z" fill="none" stroke="#800080" stroke-width="3.2" stroke-linejoin="miter"/>
<path d="M1315.25 165.55 L1325.75 165.55 L1325.75 176.05 L1315.25 176.05 Z" fill="none" stroke="#800080" stroke-width="3.2" stroke-linejoin="miter"/>
<path d="M1308.75 325.75 L1319.25 325.75 L1319.25 336.25 L1308.75 336.25 Z" fill="none" stroke="#800080" stroke-width="3.2" stroke-linejoin="miter"/>
<path d="M1321.65 130.35 L1332.15 130.35 L1332.15 140.85 L1321.65 140.85 Z" fill="none" stroke="#800080" stroke-width="3.2" stroke-linejoin="miter"/>
<path d="M1327.75 121.75 L1338.25 121.75 L1338.25 132.25 L1327.75 132.25 Z" fill="none" stroke="#800080" stroke-width="3.2" stroke-linejoin="miter"/>
<path d="M1333.05 122.75 L1343.55 122.75 L1343.55 133.25 L1333.05 133.25 Z" fill="none" stroke="#800080" stroke-width="3.2" stroke-linejoin="miter"/>
<path d="M1339.75 115.85 L1350.25 115.85 L1350.25 126.35 L1339.75 126.35 Z" fill="none" stroke="#800080" stroke-width="3.2" stroke-linejoin="miter"/>
<path d="M1345.55 110.05 L1356.05 110.05 L1356.05 120.55 L1345.55 120.55 Z" fill="none" stroke="#800080" stroke-width="3.2" stroke-linejoin="miter"/>
<path d="M1351.95 106.25 L1362.45 106.25 L1362.45 116.75 L1351.95 116.75 Z" fill="none" stroke="#800080" stroke-width="3.2" stroke-linejoin="miter"/>
<path d="M1358.05 103.95 L1368.55 103.95 L1368.55 114.45 L1358.05 114.45 Z" fill="none" stroke="#800080" stroke-width="3.2" stroke-linejoin="miter"/>
<path d="M1363.95 95.15 L1374.45 95.15 L1374.45 105.65 L1363.95 105.65 Z" fill="none" stroke="#800080" stroke-width="3.2" stroke-linejoin="miter"/>
</g>
<path d="M835.85 466.18v-10.6M835.85 1.58v10.6M852.49 466.18v-6.1M852.49 1.58v6.1M869.12 466.18v-6.1M869.12 1.58v6.1M885.75 466.18v-6.1M885.75 1.58v6.1M902.39 466.18v-6.1M902.39 1.58v6.1M919.02 466.18v-10.6M919.02 1.58v10.6M935.66 466.18v-6.1M935.66 1.58v6.1M952.3 466.18v-6.1M952.3 1.58v6.1M968.93 466.18v-6.1M968.93 1.58v6.1M985.57 466.18v-6.1M985.57 1.58v6.1M1002.2 466.18v-10.6M1002.2 1.58v10.6M1018.84 466.18v-6.1M1018.84 1.58v6.1M1035.47 466.18v-6.1M1035.47 1.58v6.1M1052.11 466.18v-6.1M1052.11 1.58v6.1M1068.74 466.18v-6.1M1068.74 1.58v6.1M1085.38 466.18v-10.6M1085.38 1.58v10.6M1102.01 466.18v-6.1M1102.01 1.58v6.1M1118.64 466.18v-6.1M1118.64 1.58v6.1M1135.28 466.18v-6.1M1135.28 1.58v6.1M1151.91 466.18v-6.1M1151.91 1.58v6.1M1168.55 466.18v-10.6M1168.55 1.58v10.6M1185.18 466.18v-6.1M1185.18 1.58v6.1M1201.82 466.18v-6.1M1201.82 1.58v6.1M1218.45 466.18v-6.1M1218.45 1.58v6.1M1235.09 466.18v-6.1M1235.09 1.58v6.1M1251.72 466.18v-10.6M1251.72 1.58v10.6M1268.36 466.18v-6.1M1268.36 1.58v6.1M1284.99 466.18v-6.1M1284.99 1.58v6.1M1301.63 466.18v-6.1M1301.63 1.58v6.1M1318.27 466.18v-6.1M1318.27 1.58v6.1M1334.9 466.18v-10.6M1334.9 1.58v10.6M1351.53 466.18v-6.1M1351.53 1.58v6.1M1368.17 466.18v-6.1M1368.17 1.58v6.1M1384.81 466.18v-6.1M1384.81 1.58v6.1M1401.44 466.18v-6.1M1401.44 1.58v6.1M1418.08 466.18v-10.6M1418.08 1.58v10.6M1434.71 466.18v-6.1M1434.71 1.58v6.1M835.85 466.18h10.6M1434.71 466.18h-10.6M835.85 449.59h6.1M1434.71 449.59h-6.1M835.85 432.99h6.1M1434.71 432.99h-6.1M835.85 416.4h6.1M1434.71 416.4h-6.1M835.85 399.81h6.1M1434.71 399.81h-6.1M835.85 383.22h10.6M1434.71 383.22h-10.6M835.85 366.62h6.1M1434.71 366.62h-6.1M835.85 350.03h6.1M1434.71 350.03h-6.1M835.85 333.44h6.1M1434.71 333.44h-6.1M835.85 316.84h6.1M1434.71 316.84h-6.1M835.85 300.25h10.6M1434.71 300.25h-10.6M835.85 283.66h6.1M1434.71 283.66h-6.1M835.85 267.06h6.1M1434.71 267.06h-6.1M835.85 250.47h6.1M1434.71 250.47h-6.1M835.85 233.88h6.1M1434.71 233.88h-6.1M835.85 217.28h10.6M1434.71 217.28h-10.6M835.85 200.69h6.1M1434.71 200.69h-6.1M835.85 184.1h6.1M1434.71 184.1h-6.1M835.85 167.51h6.1M1434.71 167.51h-6.1M835.85 150.91h6.1M1434.71 150.91h-6.1M835.85 134.32h10.6M1434.71 134.32h-10.6M835.85 117.73h6.1M1434.71 117.73h-6.1M835.85 101.13h6.1M1434.71 101.13h-6.1M835.85 84.54h6.1M1434.71 84.54h-6.1M835.85 67.95h6.1M1434.71 67.95h-6.1M835.85 51.35h10.6M1434.71 51.35h-10.6M835.85 34.76h6.1M1434.71 34.76h-6.1M835.85 18.17h6.1M1434.71 18.17h-6.1M835.85 1.58h6.1M1434.71 1.58h-6.1" stroke="#000" stroke-width="2.9" fill="none"/>
<rect x="835.85" y="1.58" width="598.86" height="464.6" fill="none" stroke="#000" stroke-width="3.3" stroke-linejoin="miter"/>
<text x="835.85" y="495.98" font-size="22.8" text-anchor="middle">0</text>
<text x="919.02" y="495.98" font-size="22.8" text-anchor="middle">50</text>
<text x="1002.2" y="495.98" font-size="22.8" text-anchor="middle">100</text>
<text x="1085.38" y="495.98" font-size="22.8" text-anchor="middle">150</text>
<text x="1168.55" y="495.98" font-size="22.8" text-anchor="middle">200</text>
<text x="1251.72" y="495.98" font-size="22.8" text-anchor="middle">250</text>
<text x="1334.9" y="495.98" font-size="22.8" text-anchor="middle">300</text>
<text x="1418.08" y="495.98" font-size="22.8" text-anchor="middle">350</text>
<text x="823.8" y="474.93" font-size="22.8" text-anchor="end">−100</text>
<text x="823.8" y="391.97" font-size="22.8" text-anchor="end">−50</text>
<text x="823.8" y="309" font-size="22.8" text-anchor="end">0</text>
<text x="823.8" y="226.03" font-size="22.8" text-anchor="end">50</text>
<text x="823.8" y="143.07" font-size="22.8" text-anchor="end">100</text>
<text x="823.8" y="60.1" font-size="22.8" text-anchor="end">150</text>
<text x="1135.28" y="524.58" font-size="24.45" text-anchor="middle"><tspan font-style="italic">ϕ</tspan> [deg]</text>
<text transform="translate(750.1 233.88) rotate(-90)" font-size="24.45" text-anchor="middle">PA [deg]</text>
<text x="885.5" y="51.88" font-size="24.6">(b)</text>
<text x="1002.35" y="51.88" font-size="30.3">Aberration</text>
<rect x="844.7" y="397.68" width="230.7" height="59" rx="3.6" ry="3.6" fill="#fff" fill-opacity="0.8" stroke="#cccccc" stroke-width="1.25"/>
<circle cx="870.3" cy="414.08" r="5.6" fill="#000" fill-opacity="0.68"/>
<path d="M865.05 435.63 L875.55 435.63 L875.55 446.13 L865.05 446.13 Z" fill="none" stroke="#800080" stroke-width="3.2" stroke-linejoin="miter"/>
<text x="902.6" y="418.78" font-size="18.2">Data at 430 MHz</text>
<text x="902.6" y="445.88" font-size="18.2">r_em=5R, h=1.0R</text>
<g clip-path="url(#clip20)">
<circle cx="1606.7" cy="152.7" r="5.6" fill="#000" fill-opacity="0.68"/>
<circle cx="1614.6" cy="157.6" r="5.6" fill="#000" fill-opacity="0.68"/>
<circle cx="1621.7" cy="154.9" r="5.6" fill="#000" fill-opacity="0.68"/>
<circle cx="1628.8" cy="164.1" r="5.6" fill="#000" fill-opacity="0.68"/>
<circle cx="1647.5" cy="163.6" r="5.6" fill="#000" fill-opacity="0.68"/>
<circle cx="1633.8" cy="174.3" r="5.6" fill="#000" fill-opacity="0.68"/>
<circle cx="1642.1" cy="175.7" r="5.6" fill="#000" fill-opacity="0.68"/>
<circle cx="1651.7" cy="181.1" r="5.6" fill="#000" fill-opacity="0.68"/>
<circle cx="1658.3" cy="181.1" r="5.6" fill="#000" fill-opacity="0.68"/>
<circle cx="1662.1" cy="163.6" r="5.6" fill="#000" fill-opacity="0.68"/>
<circle cx="1668.3" cy="156.6" r="5.6" fill="#000" fill-opacity="0.68"/>
<circle cx="1670.8" cy="174.3" r="5.6" fill="#000" fill-opacity="0.68"/>
<circle cx="1675.8" cy="177.4" r="5.6" fill="#000" fill-opacity="0.68"/>
<circle cx="1672.5" cy="187.4" r="5.6" fill="#000" fill-opacity="0.68"/>
<circle cx="1680.8" cy="168.6" r="5.6" fill="#000" fill-opacity="0.68"/>
<circle cx="1681.2" cy="200.3" r="5.6" fill="#000" fill-opacity="0.68"/>
<circle cx="1688.3" cy="164.9" r="5.6" fill="#000" fill-opacity="0.68"/>
<circle cx="1689.6" cy="188" r="5.6" fill="#000" fill-opacity="0.68"/>
<circle cx="1698" cy="170.7" r="5.6" fill="#000" fill-opacity="0.68"/>
<circle cx="1698" cy="181.1" r="5.6" fill="#000" fill-opacity="0.68"/>
<circle cx="1705.9" cy="184.9" r="5.6" fill="#000" fill-opacity="0.68"/>
<circle cx="1698" cy="192.8" r="5.6" fill="#000" fill-opacity="0.68"/>
<circle cx="1708.2" cy="201" r="5.6" fill="#000" fill-opacity="0.68"/>
<circle cx="1711.7" cy="209.7" r="5.6" fill="#000" fill-opacity="0.68"/>
<circle cx="1715.8" cy="197.3" r="5.6" fill="#000" fill-opacity="0.68"/>
<circle cx="1720.2" cy="195.8" r="5.6" fill="#000" fill-opacity="0.68"/>
<circle cx="1725.7" cy="195.8" r="5.6" fill="#000" fill-opacity="0.68"/>
<circle cx="1730.3" cy="197.7" r="5.6" fill="#000" fill-opacity="0.68"/>
<circle cx="1738" cy="197.5" r="5.6" fill="#000" fill-opacity="0.68"/>
<circle cx="1743.9" cy="208.9" r="5.6" fill="#000" fill-opacity="0.68"/>
<circle cx="1749.1" cy="192.9" r="5.6" fill="#000" fill-opacity="0.68"/>
<circle cx="1758.8" cy="185.3" r="5.6" fill="#000" fill-opacity="0.68"/>
<circle cx="1776.7" cy="201.1" r="5.6" fill="#000" fill-opacity="0.68"/>
<circle cx="1939.2" cy="86.2" r="5.6" fill="#000" fill-opacity="0.68"/>
<circle cx="1950.3" cy="88.4" r="5.6" fill="#000" fill-opacity="0.68"/>
<circle cx="1958.6" cy="88" r="5.6" fill="#000" fill-opacity="0.68"/>
<circle cx="1958.2" cy="95.7" r="5.6" fill="#000" fill-opacity="0.68"/>
<circle cx="1966.7" cy="98.9" r="5.6" fill="#000" fill-opacity="0.68"/>
<circle cx="1967.4" cy="104" r="5.6" fill="#000" fill-opacity="0.68"/>
<circle cx="1971.9" cy="105.8" r="5.6" fill="#000" fill-opacity="0.68"/>
<circle cx="1978" cy="112.3" r="5.6" fill="#000" fill-opacity="0.68"/>
<circle cx="1983.3" cy="116.3" r="5.6" fill="#000" fill-opacity="0.68"/>
<circle cx="1985.9" cy="109.3" r="5.6" fill="#000" fill-opacity="0.68"/>
<circle cx="1991.3" cy="107.2" r="5.6" fill="#000" fill-opacity="0.68"/>
<circle cx="1995.8" cy="107.5" r="5.6" fill="#000" fill-opacity="0.68"/>
<circle cx="2003" cy="104.1" r="5.6" fill="#000" fill-opacity="0.68"/>
<circle cx="2005.8" cy="104.1" r="5.6" fill="#000" fill-opacity="0.68"/>
<circle cx="2010.2" cy="107" r="5.6" fill="#000" fill-opacity="0.68"/>
<circle cx="2013.7" cy="113.6" r="5.6" fill="#000" fill-opacity="0.68"/>
<circle cx="2013.7" cy="126.1" r="5.6" fill="#000" fill-opacity="0.68"/>
<circle cx="2013.7" cy="132.4" r="5.6" fill="#000" fill-opacity="0.68"/>
<circle cx="2027.5" cy="123.6" r="5.6" fill="#000" fill-opacity="0.68"/>
<circle cx="2025.7" cy="133.5" r="5.6" fill="#000" fill-opacity="0.68"/>
<circle cx="2023.4" cy="137.6" r="5.6" fill="#000" fill-opacity="0.68"/>
<circle cx="2034.7" cy="132.1" r="5.6" fill="#000" fill-opacity="0.68"/>
<circle cx="2039.2" cy="141.6" r="5.6" fill="#000" fill-opacity="0.68"/>
<circle cx="2046.3" cy="131.1" r="5.6" fill="#000" fill-opacity="0.68"/>
<circle cx="2049.9" cy="124.1" r="5.6" fill="#000" fill-opacity="0.68"/>
<circle cx="2052.8" cy="114.9" r="5.6" fill="#000" fill-opacity="0.68"/>
<circle cx="2054.2" cy="98.6" r="5.6" fill="#000" fill-opacity="0.68"/>
<circle cx="2058" cy="89.5" r="5.6" fill="#000" fill-opacity="0.68"/>
<circle cx="2063" cy="84.5" r="5.6" fill="#000" fill-opacity="0.68"/>
<circle cx="2070.4" cy="87.4" r="5.6" fill="#000" fill-opacity="0.68"/>
<circle cx="2077.5" cy="92" r="5.6" fill="#000" fill-opacity="0.68"/>
<circle cx="2084.2" cy="99.9" r="5.6" fill="#000" fill-opacity="0.68"/>
<circle cx="2097.6" cy="95.9" r="5.6" fill="#000" fill-opacity="0.68"/>
<circle cx="2115.9" cy="87.7" r="5.6" fill="#000" fill-opacity="0.68"/>
<circle cx="2121.7" cy="97.8" r="5.6" fill="#000" fill-opacity="0.68"/>
<circle cx="2111.3" cy="105.9" r="5.6" fill="#000" fill-opacity="0.68"/>
<circle cx="2135.2" cy="100.7" r="5.6" fill="#000" fill-opacity="0.68"/>
<circle cx="2148.5" cy="115.3" r="5.6" fill="#000" fill-opacity="0.68"/>
<path d="M1580.2 59.8 L1578.97 63.6 L1574.97 63.6 L1578.2 65.95 L1576.97 69.75 L1580.2 67.4 L1583.43 69.75 L1582.2 65.95 L1585.43 63.6 L1581.43 63.6 Z" fill="none" stroke="#ff0000" stroke-width="3.3" stroke-linejoin="round"/>
<path d="M1592.4 61.6 L1591.17 65.4 L1587.17 65.4 L1590.4 67.75 L1589.17 71.55 L1592.4 69.2 L1595.63 71.55 L1594.4 67.75 L1597.63 65.4 L1593.63 65.4 Z" fill="none" stroke="#ff0000" stroke-width="3.3" stroke-linejoin="round"/>
<path d="M1574.8 199.7 L1573.57 203.5 L1569.57 203.5 L1572.8 205.85 L1571.57 209.65 L1574.8 207.3 L1578.03 209.65 L1576.8 205.85 L1580.03 203.5 L1576.03 203.5 Z" fill="none" stroke="#ff0000" stroke-width="3.3" stroke-linejoin="round"/>
<path d="M1598.2 347.3 L1596.97 351.1 L1592.97 351.1 L1596.2 353.45 L1594.97 357.25 L1598.2 354.9 L1601.43 357.25 L1600.2 353.45 L1603.43 351.1 L1599.43 351.1 Z" fill="none" stroke="#ff0000" stroke-width="3.3" stroke-linejoin="round"/>
<path d="M1605.1 343.5 L1603.87 347.3 L1599.87 347.3 L1603.1 349.65 L1601.87 353.45 L1605.1 351.1 L1608.33 353.45 L1607.1 349.65 L1610.33 347.3 L1606.33 347.3 Z" fill="none" stroke="#ff0000" stroke-width="3.3" stroke-linejoin="round"/>
<path d="M1610.7 339.3 L1609.47 343.1 L1605.47 343.1 L1608.7 345.45 L1607.47 349.25 L1610.7 346.9 L1613.93 349.25 L1612.7 345.45 L1615.93 343.1 L1611.93 343.1 Z" fill="none" stroke="#ff0000" stroke-width="3.3" stroke-linejoin="round"/>
<path d="M1622.5 334.8 L1621.27 338.6 L1617.27 338.6 L1620.5 340.95 L1619.27 344.75 L1622.5 342.4 L1625.73 344.75 L1624.5 340.95 L1627.73 338.6 L1623.73 338.6 Z" fill="none" stroke="#ff0000" stroke-width="3.3" stroke-linejoin="round"/>
<path d="M1634.4 326.8 L1633.17 330.6 L1629.17 330.6 L1632.4 332.95 L1631.17 336.75 L1634.4 334.4 L1637.63 336.75 L1636.4 332.95 L1639.63 330.6 L1635.63 330.6 Z" fill="none" stroke="#ff0000" stroke-width="3.3" stroke-linejoin="round"/>
<path d="M1646.4 320.9 L1645.17 324.7 L1641.17 324.7 L1644.4 327.05 L1643.17 330.85 L1646.4 328.5 L1649.63 330.85 L1648.4 327.05 L1651.63 324.7 L1647.63 324.7 Z" fill="none" stroke="#ff0000" stroke-width="3.3" stroke-linejoin="round"/>
<path d="M1652.7 316.8 L1651.47 320.6 L1647.47 320.6 L1650.7 322.95 L1649.47 326.75 L1652.7 324.4 L1655.93 326.75 L1654.7 322.95 L1657.93 320.6 L1653.93 320.6 Z" fill="none" stroke="#ff0000" stroke-width="3.3" stroke-linejoin="round"/>
<path d="M1664.8 311.9 L1663.57 315.7 L1659.57 315.7 L1662.8 318.05 L1661.57 321.85 L1664.8 319.5 L1668.03 321.85 L1666.8 318.05 L1670.03 315.7 L1666.03 315.7 Z" fill="none" stroke="#ff0000" stroke-width="3.3" stroke-linejoin="round"/>
<path d="M1671.1 304.6 L1669.87 308.4 L1665.87 308.4 L1669.1 310.75 L1667.87 314.55 L1671.1 312.2 L1674.33 314.55 L1673.1 310.75 L1676.33 308.4 L1672.33 308.4 Z" fill="none" stroke="#ff0000" stroke-width="3.3" stroke-linejoin="round"/>
<path d="M1677 298 L1675.77 301.8 L1671.77 301.8 L1675 304.15 L1673.77 307.95 L1677 305.6 L1680.23 307.95 L1679 304.15 L1682.23 301.8 L1678.23 301.8 Z" fill="none" stroke="#ff0000" stroke-width="3.3" stroke-linejoin="round"/>
<path d="M1689 290.6 L1687.77 294.4 L1683.77 294.4 L1687 296.75 L1685.77 300.55 L1689 298.2 L1692.23 300.55 L1691 296.75 L1694.23 294.4 L1690.23 294.4 Z" fill="none" stroke="#ff0000" stroke-width="3.3" stroke-linejoin="round"/>
<path d="M1694.9 284.4 L1693.67 288.2 L1689.67 288.2 L1692.9 290.55 L1691.67 294.35 L1694.9 292 L1698.13 294.35 L1696.9 290.55 L1700.13 288.2 L1696.13 288.2 Z" fill="none" stroke="#ff0000" stroke-width="3.3" stroke-linejoin="round"/>
<path d="M1707.4 278.5 L1706.17 282.3 L1702.17 282.3 L1705.4 284.65 L1704.17 288.45 L1707.4 286.1 L1710.63 288.45 L1709.4 284.65 L1712.63 282.3 L1708.63 282.3 Z" fill="none" stroke="#ff0000" stroke-width="3.3" stroke-linejoin="round"/>
<path d="M1713.3 271.2 L1712.07 275 L1708.07 275 L1711.3 277.35 L1710.07 281.15 L1713.3 278.8 L1716.53 281.15 L1715.3 277.35 L1718.53 275 L1714.53 275 Z" fill="none" stroke="#ff0000" stroke-width="3.3" stroke-linejoin="round"/>
<path d="M1731.4 257.7 L1730.17 261.5 L1726.17 261.5 L1729.4 263.85 L1728.17 267.65 L1731.4 265.3 L1734.63 267.65 L1733.4 263.85 L1736.63 261.5 L1732.63 261.5 Z" fill="none" stroke="#ff0000" stroke-width="3.3" stroke-linejoin="round"/>
<path d="M1737.3 250.7 L1736.07 254.5 L1732.07 254.5 L1735.3 256.85 L1734.07 260.65 L1737.3 258.3 L1740.53 260.65 L1739.3 256.85 L1742.53 254.5 L1738.53 254.5 Z" fill="none" stroke="#ff0000" stroke-width="3.3" stroke-linejoin="round"/>
<path d="M1743.5 246.9 L1742.27 250.7 L1738.27 250.7 L1741.5 253.05 L1740.27 256.85 L1743.5 254.5 L1746.73 256.85 L1745.5 253.05 L1748.73 250.7 L1744.73 250.7 Z" fill="none" stroke="#ff0000" stroke-width="3.3" stroke-linejoin="round"/>
<path d="M1749.4 242.1 L1748.17 245.9 L1744.17 245.9 L1747.4 248.25 L1746.17 252.05 L1749.4 249.7 L1752.63 252.05 L1751.4 248.25 L1754.63 245.9 L1750.63 245.9 Z" fill="none" stroke="#ff0000" stroke-width="3.3" stroke-linejoin="round"/>
<path d="M1755.3 236.2 L1754.07 240 L1750.07 240 L1753.3 242.35 L1752.07 246.15 L1755.3 243.8 L1758.53 246.15 L1757.3 242.35 L1760.53 240 L1756.53 240 Z" fill="none" stroke="#ff0000" stroke-width="3.3" stroke-linejoin="round"/>
<path d="M1761.5 230.6 L1760.27 234.4 L1756.27 234.4 L1759.5 236.75 L1758.27 240.55 L1761.5 238.2 L1764.73 240.55 L1763.5 236.75 L1766.73 234.4 L1762.73 234.4 Z" fill="none" stroke="#ff0000" stroke-width="3.3" stroke-linejoin="round"/>
<path d="M1768.1 229.9 L1766.87 233.7 L1762.87 233.7 L1766.1 236.05 L1764.87 239.85 L1768.1 237.5 L1771.33 239.85 L1770.1 236.05 L1773.33 233.7 L1769.33 233.7 Z" fill="none" stroke="#ff0000" stroke-width="3.3" stroke-linejoin="round"/>
<path d="M1852.5 92.8 L1851.27 96.6 L1847.27 96.6 L1850.5 98.95 L1849.27 102.75 L1852.5 100.4 L1855.73 102.75 L1854.5 98.95 L1857.73 96.6 L1853.73 96.6 Z" fill="none" stroke="#ff0000" stroke-width="3.3" stroke-linejoin="round"/>
<path d="M1858.3 85.8 L1857.07 89.6 L1853.07 89.6 L1856.3 91.95 L1855.07 95.75 L1858.3 93.4 L1861.53 95.75 L1860.3 91.95 L1863.53 89.6 L1859.53 89.6 Z" fill="none" stroke="#ff0000" stroke-width="3.3" stroke-linejoin="round"/>
<path d="M1864.7 82.8 L1863.47 86.6 L1859.47 86.6 L1862.7 88.95 L1861.47 92.75 L1864.7 90.4 L1867.93 92.75 L1866.7 88.95 L1869.93 86.6 L1865.93 86.6 Z" fill="none" stroke="#ff0000" stroke-width="3.3" stroke-linejoin="round"/>
<path d="M1876.6 90 L1875.37 93.8 L1871.37 93.8 L1874.6 96.15 L1873.37 99.95 L1876.6 97.6 L1879.83 99.95 L1878.6 96.15 L1881.83 93.8 L1877.83 93.8 Z" fill="none" stroke="#ff0000" stroke-width="3.3" stroke-linejoin="round"/>
<path d="M1882.7 85.8 L1881.47 89.6 L1877.47 89.6 L1880.7 91.95 L1879.47 95.75 L1882.7 93.4 L1885.93 95.75 L1884.7 91.95 L1887.93 89.6 L1883.93 89.6 Z" fill="none" stroke="#ff0000" stroke-width="3.3" stroke-linejoin="round"/>
<path d="M1894.7 82 L1893.47 85.8 L1889.47 85.8 L1892.7 88.15 L1891.47 91.95 L1894.7 89.6 L1897.93 91.95 L1896.7 88.15 L1899.93 85.8 L1895.93 85.8 Z" fill="none" stroke="#ff0000" stroke-width="3.3" stroke-linejoin="round"/>
<path d="M1901 77.8 L1899.77 81.6 L1895.77 81.6 L1899 83.95 L1897.77 87.75 L1901 85.4 L1904.23 87.75 L1903 83.95 L1906.23 81.6 L1902.23 81.6 Z" fill="none" stroke="#ff0000" stroke-width="3.3" stroke-linejoin="round"/>
<path d="M1907.1 75.9 L1905.87 79.7 L1901.87 79.7 L1905.1 82.05 L1903.87 85.85 L1907.1 83.5 L1910.33 85.85 L1909.1 82.05 L1912.33 79.7 L1908.33 79.7 Z" fill="none" stroke="#ff0000" stroke-width="3.3" stroke-linejoin="round"/>
<path d="M1925.3 62.9 L1924.07 66.7 L1920.07 66.7 L1923.3 69.05 L1922.07 72.85 L1925.3 70.5 L1928.53 72.85 L1927.3 69.05 L1930.53 66.7 L1926.53 66.7 Z" fill="none" stroke="#ff0000" stroke-width="3.3" stroke-linejoin="round"/>
<path d="M1937.4 64.3 L1936.17 68.1 L1932.17 68.1 L1935.4 70.45 L1934.17 74.25 L1937.4 71.9 L1940.63 74.25 L1939.4 70.45 L1942.63 68.1 L1938.63 68.1 Z" fill="none" stroke="#ff0000" stroke-width="3.3" stroke-linejoin="round"/>
<path d="M1949.4 64.7 L1948.17 68.5 L1944.17 68.5 L1947.4 70.85 L1946.17 74.65 L1949.4 72.3 L1952.63 74.65 L1951.4 70.85 L1954.63 68.5 L1950.63 68.5 Z" fill="none" stroke="#ff0000" stroke-width="3.3" stroke-linejoin="round"/>
<path d="M1951.5 59.9 L1950.27 63.7 L1946.27 63.7 L1949.5 66.05 L1948.27 69.85 L1951.5 67.5 L1954.73 69.85 L1953.5 66.05 L1956.73 63.7 L1952.73 63.7 Z" fill="none" stroke="#ff0000" stroke-width="3.3" stroke-linejoin="round"/>
<path d="M1955.4 58.5 L1954.17 62.3 L1950.17 62.3 L1953.4 64.65 L1952.17 68.45 L1955.4 66.1 L1958.63 68.45 L1957.4 64.65 L1960.63 62.3 L1956.63 62.3 Z" fill="none" stroke="#ff0000" stroke-width="3.3" stroke-linejoin="round"/>
<path d="M1931.2 355.3 L1929.97 359.1 L1925.97 359.1 L1929.2 361.45 L1927.97 365.25 L1931.2 362.9 L1934.43 365.25 L1933.2 361.45 L1936.43 359.1 L1932.43 359.1 Z" fill="none" stroke="#ff0000" stroke-width="3.3" stroke-linejoin="round"/>
<path d="M1961.5 350.2 L1960.27 354 L1956.27 354 L1959.5 356.35 L1958.27 360.15 L1961.5 357.8 L1964.73 360.15 L1963.5 356.35 L1966.73 354 L1962.73 354 Z" fill="none" stroke="#ff0000" stroke-width="3.3" stroke-linejoin="round"/>
<path d="M1985.5 345 L1984.27 348.8 L1980.27 348.8 L1983.5 351.15 L1982.27 354.95 L1985.5 352.6 L1988.73 354.95 L1987.5 351.15 L1990.73 348.8 L1986.73 348.8 Z" fill="none" stroke="#ff0000" stroke-width="3.3" stroke-linejoin="round"/>
<path d="M2003.3 336.1 L2002.07 339.9 L1998.07 339.9 L2001.3 342.25 L2000.07 346.05 L2003.3 343.7 L2006.53 346.05 L2005.3 342.25 L2008.53 339.9 L2004.53 339.9 Z" fill="none" stroke="#ff0000" stroke-width="3.3" stroke-linejoin="round"/>
<path d="M2009.9 332.4 L2008.67 336.2 L2004.67 336.2 L2007.9 338.55 L2006.67 342.35 L2009.9 340 L2013.13 342.35 L2011.9 338.55 L2015.13 336.2 L2011.13 336.2 Z" fill="none" stroke="#ff0000" stroke-width="3.3" stroke-linejoin="round"/>
<path d="M2022.1 313.1 L2020.87 316.9 L2016.87 316.9 L2020.1 319.25 L2018.87 323.05 L2022.1 320.7 L2025.33 323.05 L2024.1 319.25 L2027.33 316.9 L2023.33 316.9 Z" fill="none" stroke="#ff0000" stroke-width="3.3" stroke-linejoin="round"/>
<path d="M2028 282 L2026.77 285.8 L2022.77 285.8 L2026 288.15 L2024.77 291.95 L2028 289.6 L2031.23 291.95 L2030 288.15 L2033.23 285.8 L2029.23 285.8 Z" fill="none" stroke="#ff0000" stroke-width="3.3" stroke-linejoin="round"/>
<path d="M2034.1 252.3 L2032.87 256.1 L2028.87 256.1 L2032.1 258.45 L2030.87 262.25 L2034.1 259.9 L2037.33 262.25 L2036.1 258.45 L2039.33 256.1 L2035.33 256.1 Z" fill="none" stroke="#ff0000" stroke-width="3.3" stroke-linejoin="round"/>
<path d="M2040.3 241 L2039.07 244.8 L2035.07 244.8 L2038.3 247.15 L2037.07 250.95 L2040.3 248.6 L2043.53 250.95 L2042.3 247.15 L2045.53 244.8 L2041.53 244.8 Z" fill="none" stroke="#ff0000" stroke-width="3.3" stroke-linejoin="round"/>
<path d="M2052.3 224.8 L2051.07 228.6 L2047.07 228.6 L2050.3 230.95 L2049.07 234.75 L2052.3 232.4 L2055.53 234.75 L2054.3 230.95 L2057.53 228.6 L2053.53 228.6 Z" fill="none" stroke="#ff0000" stroke-width="3.3" stroke-linejoin="round"/>
</g>
<path d="M1567.45 466.18v-10.6M1567.45 1.58v10.6M1584.09 466.18v-6.1M1584.09 1.58v6.1M1600.72 466.18v-6.1M1600.72 1.58v6.1M1617.36 466.18v-6.1M1617.36 1.58v6.1M1633.99 466.18v-6.1M1633.99 1.58v6.1M1650.62 466.18v-10.6M1650.62 1.58v10.6M1667.26 466.18v-6.1M1667.26 1.58v6.1M1683.89 466.18v-6.1M1683.89 1.58v6.1M1700.53 466.18v-6.1M1700.53 1.58v6.1M1717.16 466.18v-6.1M1717.16 1.58v6.1M1733.8 466.18v-10.6M1733.8 1.58v10.6M1750.43 466.18v-6.1M1750.43 1.58v6.1M1767.07 466.18v-6.1M1767.07 1.58v6.1M1783.7 466.18v-6.1M1783.7 1.58v6.1M1800.34 466.18v-6.1M1800.34 1.58v6.1M1816.98 466.18v-10.6M1816.98 1.58v10.6M1833.61 466.18v-6.1M1833.61 1.58v6.1M1850.25 466.18v-6.1M1850.25 1.58v6.1M1866.88 466.18v-6.1M1866.88 1.58v6.1M1883.52 466.18v-6.1M1883.52 1.58v6.1M1900.15 466.18v-10.6M1900.15 1.58v10.6M1916.79 466.18v-6.1M1916.79 1.58v6.1M1933.42 466.18v-6.1M1933.42 1.58v6.1M1950.06 466.18v-6.1M1950.06 1.58v6.1M1966.69 466.18v-6.1M1966.69 1.58v6.1M1983.33 466.18v-10.6M1983.33 1.58v10.6M1999.96 466.18v-6.1M1999.96 1.58v6.1M2016.6 466.18v-6.1M2016.6 1.58v6.1M2033.23 466.18v-6.1M2033.23 1.58v6.1M2049.87 466.18v-6.1M2049.87 1.58v6.1M2066.5 466.18v-10.6M2066.5 1.58v10.6M2083.14 466.18v-6.1M2083.14 1.58v6.1M2099.77 466.18v-6.1M2099.77 1.58v6.1M2116.41 466.18v-6.1M2116.41 1.58v6.1M2133.04 466.18v-6.1M2133.04 1.58v6.1M2149.68 466.18v-10.6M2149.68 1.58v10.6M2166.31 466.18v-6.1M2166.31 1.58v6.1M1567.45 466.18h10.6M2166.31 466.18h-10.6M1567.45 449.59h6.1M2166.31 449.59h-6.1M1567.45 432.99h6.1M2166.31 432.99h-6.1M1567.45 416.4h6.1M2166.31 416.4h-6.1M1567.45 399.81h6.1M2166.31 399.81h-6.1M1567.45 383.22h10.6M2166.31 383.22h-10.6M1567.45 366.62h6.1M2166.31 366.62h-6.1M1567.45 350.03h6.1M2166.31 350.03h-6.1M1567.45 333.44h6.1M2166.31 333.44h-6.1M1567.45 316.84h6.1M2166.31 316.84h-6.1M1567.45 300.25h10.6M2166.31 300.25h-10.6M1567.45 283.66h6.1M2166.31 283.66h-6.1M1567.45 267.06h6.1M2166.31 267.06h-6.1M1567.45 250.47h6.1M2166.31 250.47h-6.1M1567.45 233.88h6.1M2166.31 233.88h-6.1M1567.45 217.28h10.6M2166.31 217.28h-10.6M1567.45 200.69h6.1M2166.31 200.69h-6.1M1567.45 184.1h6.1M2166.31 184.1h-6.1M1567.45 167.51h6.1M2166.31 167.51h-6.1M1567.45 150.91h6.1M2166.31 150.91h-6.1M1567.45 134.32h10.6M2166.31 134.32h-10.6M1567.45 117.73h6.1M2166.31 117.73h-6.1M1567.45 101.13h6.1M2166.31 101.13h-6.1M1567.45 84.54h6.1M2166.31 84.54h-6.1M1567.45 67.95h6.1M2166.31 67.95h-6.1M1567.45 51.35h10.6M2166.31 51.35h-10.6M1567.45 34.76h6.1M2166.31 34.76h-6.1M1567.45 18.17h6.1M2166.31 18.17h-6.1M1567.45 1.58h6.1M2166.31 1.58h-6.1" stroke="#000" stroke-width="2.9" fill="none"/>
<rect x="1567.45" y="1.58" width="598.86" height="464.6" fill="none" stroke="#000" stroke-width="3.3" stroke-linejoin="miter"/>
<text x="1567.45" y="495.98" font-size="22.8" text-anchor="middle">0</text>
<text x="1650.62" y="495.98" font-size="22.8" text-anchor="middle">50</text>
<text x="1733.8" y="495.98" font-size="22.8" text-anchor="middle">100</text>
<text x="1816.98" y="495.98" font-size="22.8" text-anchor="middle">150</text>
<text x="1900.15" y="495.98" font-size="22.8" text-anchor="middle">200</text>
<text x="1983.33" y="495.98" font-size="22.8" text-anchor="middle">250</text>
<text x="2066.5" y="495.98" font-size="22.8" text-anchor="middle">300</text>
<text x="2149.68" y="495.98" font-size="22.8" text-anchor="middle">350</text>
<text x="1555.4" y="474.93" font-size="22.8" text-anchor="end">−100</text>
<text x="1555.4" y="391.97" font-size="22.8" text-anchor="end">−50</text>
<text x="1555.4" y="309" font-size="22.8" text-anchor="end">0</text>
<text x="1555.4" y="226.03" font-size="22.8" text-anchor="end">50</text>
<text x="1555.4" y="143.07" font-size="22.8" text-anchor="end">100</text>
<text x="1555.4" y="60.1" font-size="22.8" text-anchor="end">150</text>
<text x="1866.88" y="524.58" font-size="24.45" text-anchor="middle"><tspan font-style="italic">ϕ</tspan> [deg]</text>
<text transform="translate(1481.7 233.88) rotate(-90)" font-size="24.45" text-anchor="middle">PA [deg]</text>
<text x="1617.1" y="51.88" font-size="24.6">(c)</text>
<text x="1733.95" y="51.88" font-size="30.3">Aberration</text>
<rect x="1576.3" y="397.68" width="230.7" height="59" rx="3.6" ry="3.6" fill="#fff" fill-opacity="0.8" stroke="#cccccc" stroke-width="1.25"/>
<circle cx="1601.9" cy="414.08" r="5.6" fill="#000" fill-opacity="0.68"/>
<path d="M1601.9 435.38 L1600.67 439.18 L1596.67 439.18 L1599.9 441.53 L1598.67 445.33 L1601.9 442.98 L1605.13 445.33 L1603.9 441.53 L1607.13 439.18 L1603.13 439.18 Z" fill="none" stroke="#ff0000" stroke-width="3.3" stroke-linejoin="round"/>
<text x="1634.2" y="418.78" font-size="18.2">Data at 430 MHz</text>
<text x="1634.2" y="445.88" font-size="18.2">r_em=8R, h=0.1R</text>
<g clip-path="url(#clip01)">
<circle cx="143.3" cy="703.2" r="5.6" fill="#000" fill-opacity="0.68"/>
<circle cx="151.2" cy="708.1" r="5.6" fill="#000" fill-opacity="0.68"/>
<circle cx="158.3" cy="705.4" r="5.6" fill="#000" fill-opacity="0.68"/>
<circle cx="165.4" cy="714.6" r="5.6" fill="#000" fill-opacity="0.68"/>
<circle cx="184.1" cy="714.1" r="5.6" fill="#000" fill-opacity="0.68"/>
<circle cx="170.4" cy="724.8" r="5.6" fill="#000" fill-opacity="0.68"/>
<circle cx="178.7" cy="726.2" r="5.6" fill="#000" fill-opacity="0.68"/>
<circle cx="188.3" cy="731.6" r="5.6" fill="#000" fill-opacity="0.68"/>
<circle cx="194.9" cy="731.6" r="5.6" fill="#000" fill-opacity="0.68"/>
<circle cx="198.7" cy="714.1" r="5.6" fill="#000" fill-opacity="0.68"/>
<circle cx="204.9" cy="707.1" r="5.6" fill="#000" fill-opacity="0.68"/>
<circle cx="207.4" cy="724.8" r="5.6" fill="#000" fill-opacity="0.68"/>
<circle cx="212.4" cy="727.9" r="5.6" fill="#000" fill-opacity="0.68"/>
<circle cx="209.1" cy="737.9" r="5.6" fill="#000" fill-opacity="0.68"/>
<circle cx="217.4" cy="719.1" r="5.6" fill="#000" fill-opacity="0.68"/>
<circle cx="217.8" cy="750.8" r="5.6" fill="#000" fill-opacity="0.68"/>
<circle cx="224.9" cy="715.4" r="5.6" fill="#000" fill-opacity="0.68"/>
<circle cx="226.2" cy="738.5" r="5.6" fill="#000" fill-opacity="0.68"/>
<circle cx="234.6" cy="721.2" r="5.6" fill="#000" fill-opacity="0.68"/>
<circle cx="234.6" cy="731.6" r="5.6" fill="#000" fill-opacity="0.68"/>
<circle cx="242.5" cy="735.4" r="5.6" fill="#000" fill-opacity="0.68"/>
<circle cx="234.6" cy="743.3" r="5.6" fill="#000" fill-opacity="0.68"/>
<circle cx="244.8" cy="751.5" r="5.6" fill="#000" fill-opacity="0.68"/>
<circle cx="248.3" cy="760.2" r="5.6" fill="#000" fill-opacity="0.68"/>
<circle cx="252.4" cy="747.8" r="5.6" fill="#000" fill-opacity="0.68"/>
<circle cx="256.8" cy="746.3" r="5.6" fill="#000" fill-opacity="0.68"/>
<circle cx="262.3" cy="746.3" r="5.6" fill="#000" fill-opacity="0.68"/>
<circle cx="266.9" cy="748.2" r="5.6" fill="#000" fill-opacity="0.68"/>
<circle cx="274.6" cy="748" r="5.6" fill="#000" fill-opacity="0.68"/>
<circle cx="280.5" cy="759.4" r="5.6" fill="#000" fill-opacity="0.68"/>
<circle cx="285.7" cy="743.4" r="5.6" fill="#000" fill-opacity="0.68"/>
<circle cx="295.4" cy="735.8" r="5.6" fill="#000" fill-opacity="0.68"/>
<circle cx="313.3" cy="751.6" r="5.6" fill="#000" fill-opacity="0.68"/>
<circle cx="475.8" cy="636.7" r="5.6" fill="#000" fill-opacity="0.68"/>
<circle cx="486.9" cy="638.9" r="5.6" fill="#000" fill-opacity="0.68"/>
<circle cx="495.2" cy="638.5" r="5.6" fill="#000" fill-opacity="0.68"/>
<circle cx="494.8" cy="646.2" r="5.6" fill="#000" fill-opacity="0.68"/>
<circle cx="503.3" cy="649.4" r="5.6" fill="#000" fill-opacity="0.68"/>
<circle cx="504" cy="654.5" r="5.6" fill="#000" fill-opacity="0.68"/>
<circle cx="508.5" cy="656.3" r="5.6" fill="#000" fill-opacity="0.68"/>
<circle cx="514.6" cy="662.8" r="5.6" fill="#000" fill-opacity="0.68"/>
<circle cx="519.9" cy="666.8" r="5.6" fill="#000" fill-opacity="0.68"/>
<circle cx="522.5" cy="659.8" r="5.6" fill="#000" fill-opacity="0.68"/>
<circle cx="527.9" cy="657.7" r="5.6" fill="#000" fill-opacity="0.68"/>
<circle cx="532.4" cy="658" r="5.6" fill="#000" fill-opacity="0.68"/>
<circle cx="539.6" cy="654.6" r="5.6" fill="#000" fill-opacity="0.68"/>
<circle cx="542.4" cy="654.6" r="5.6" fill="#000" fill-opacity="0.68"/>
<circle cx="546.8" cy="657.5" r="5.6" fill="#000" fill-opacity="0.68"/>
<circle cx="550.3" cy="664.1" r="5.6" fill="#000" fill-opacity="0.68"/>
<circle cx="550.3" cy="676.6" r="5.6" fill="#000" fill-opacity="0.68"/>
<circle cx="550.3" cy="682.9" r="5.6" fill="#000" fill-opacity="0.68"/>
<circle cx="564.1" cy="674.1" r="5.6" fill="#000" fill-opacity="0.68"/>
<circle cx="562.3" cy="684" r="5.6" fill="#000" fill-opacity="0.68"/>
<circle cx="560" cy="688.1" r="5.6" fill="#000" fill-opacity="0.68"/>
<circle cx="571.3" cy="682.6" r="5.6" fill="#000" fill-opacity="0.68"/>
<circle cx="575.8" cy="692.1" r="5.6" fill="#000" fill-opacity="0.68"/>
<circle cx="582.9" cy="681.6" r="5.6" fill="#000" fill-opacity="0.68"/>
<circle cx="586.5" cy="674.6" r="5.6" fill="#000" fill-opacity="0.68"/>
<circle cx="589.4" cy="665.4" r="5.6" fill="#000" fill-opacity="0.68"/>
<circle cx="590.8" cy="649.1" r="5.6" fill="#000" fill-opacity="0.68"/>
<circle cx="594.6" cy="640" r="5.6" fill="#000" fill-opacity="0.68"/>
<circle cx="599.6" cy="635" r="5.6" fill="#000" fill-opacity="0.68"/>
<circle cx="607" cy="637.9" r="5.6" fill="#000" fill-opacity="0.68"/>
<circle cx="614.1" cy="642.5" r="5.6" fill="#000" fill-opacity="0.68"/>
<circle cx="620.8" cy="650.4" r="5.6" fill="#000" fill-opacity="0.68"/>
<circle cx="634.2" cy="646.4" r="5.6" fill="#000" fill-opacity="0.68"/>
<circle cx="652.5" cy="638.2" r="5.6" fill="#000" fill-opacity="0.68"/>
<circle cx="658.3" cy="648.3" r="5.6" fill="#000" fill-opacity="0.68"/>
<circle cx="647.9" cy="656.4" r="5.6" fill="#000" fill-opacity="0.68"/>
<circle cx="671.8" cy="651.2" r="5.6" fill="#000" fill-opacity="0.68"/>
<circle cx="685.1" cy="665.8" r="5.6" fill="#000" fill-opacity="0.68"/>
<path d="M211 844.12 L215.67 851.9 L211 859.68 L206.33 851.9 Z" fill="none" stroke="#008000" stroke-width="3.4" stroke-linejoin="round"/>
<path d="M216.7 838.02 L221.37 845.8 L216.7 853.58 L212.03 845.8 Z" fill="none" stroke="#008000" stroke-width="3.4" stroke-linejoin="round"/>
<path d="M222.7 830.82 L227.37 838.6 L222.7 846.38 L218.03 838.6 Z" fill="none" stroke="#008000" stroke-width="3.4" stroke-linejoin="round"/>
<path d="M229.3 823.62 L233.97 831.4 L229.3 839.18 L224.63 831.4 Z" fill="none" stroke="#008000" stroke-width="3.4" stroke-linejoin="round"/>
<path d="M234.7 815.82 L239.37 823.6 L234.7 831.38 L230.03 823.6 Z" fill="none" stroke="#008000" stroke-width="3.4" stroke-linejoin="round"/>
<path d="M241.3 808.02 L245.97 815.8 L241.3 823.58 L236.63 815.8 Z" fill="none" stroke="#008000" stroke-width="3.4" stroke-linejoin="round"/>
<path d="M247.3 801.42 L251.97 809.2 L247.3 816.98 L242.63 809.2 Z" fill="none" stroke="#008000" stroke-width="3.4" stroke-linejoin="round"/>
<path d="M253.7 795.22 L258.37 803 L253.7 810.78 L249.03 803 Z" fill="none" stroke="#008000" stroke-width="3.4" stroke-linejoin="round"/>
<path d="M259.3 787.62 L263.97 795.4 L259.3 803.18 L254.63 795.4 Z" fill="none" stroke="#008000" stroke-width="3.4" stroke-linejoin="round"/>
<path d="M265.9 789.22 L270.57 797 L265.9 804.78 L261.23 797 Z" fill="none" stroke="#008000" stroke-width="3.4" stroke-linejoin="round"/>
<path d="M271.3 782.52 L275.97 790.3 L271.3 798.08 L266.63 790.3 Z" fill="none" stroke="#008000" stroke-width="3.4" stroke-linejoin="round"/>
<path d="M277.8 776.62 L282.47 784.4 L277.8 792.18 L273.13 784.4 Z" fill="none" stroke="#008000" stroke-width="3.4" stroke-linejoin="round"/>
<path d="M283.8 772.62 L288.47 780.4 L283.8 788.18 L279.13 780.4 Z" fill="none" stroke="#008000" stroke-width="3.4" stroke-linejoin="round"/>
<path d="M289.8 767.82 L294.47 775.6 L289.8 783.38 L285.13 775.6 Z" fill="none" stroke="#008000" stroke-width="3.4" stroke-linejoin="round"/>
<path d="M295.8 766.42 L300.47 774.2 L295.8 781.98 L291.13 774.2 Z" fill="none" stroke="#008000" stroke-width="3.4" stroke-linejoin="round"/>
<path d="M301.8 764.82 L306.47 772.6 L301.8 780.38 L297.13 772.6 Z" fill="none" stroke="#008000" stroke-width="3.4" stroke-linejoin="round"/>
<path d="M308 766.22 L312.67 774 L308 781.78 L303.33 774 Z" fill="none" stroke="#008000" stroke-width="3.4" stroke-linejoin="round"/>
<path d="M314 760.22 L318.67 768 L314 775.78 L309.33 768 Z" fill="none" stroke="#008000" stroke-width="3.4" stroke-linejoin="round"/>
<path d="M320.1 748.92 L324.77 756.7 L320.1 764.48 L315.43 756.7 Z" fill="none" stroke="#008000" stroke-width="3.4" stroke-linejoin="round"/>
<path d="M465.3 804.62 L469.97 812.4 L465.3 820.18 L460.63 812.4 Z" fill="none" stroke="#008000" stroke-width="3.4" stroke-linejoin="round"/>
<path d="M470.9 692.42 L475.57 700.2 L470.9 707.98 L466.23 700.2 Z" fill="none" stroke="#008000" stroke-width="3.4" stroke-linejoin="round"/>
<path d="M477.6 696.42 L482.27 704.2 L477.6 711.98 L472.93 704.2 Z" fill="none" stroke="#008000" stroke-width="3.4" stroke-linejoin="round"/>
<path d="M483.5 707.22 L488.17 715 L483.5 722.78 L478.83 715 Z" fill="none" stroke="#008000" stroke-width="3.4" stroke-linejoin="round"/>
<path d="M489.4 717.12 L494.07 724.9 L489.4 732.68 L484.73 724.9 Z" fill="none" stroke="#008000" stroke-width="3.4" stroke-linejoin="round"/>
<path d="M495.5 727.92 L500.17 735.7 L495.5 743.48 L490.83 735.7 Z" fill="none" stroke="#008000" stroke-width="3.4" stroke-linejoin="round"/>
<path d="M501.7 742.12 L506.37 749.9 L501.7 757.68 L497.03 749.9 Z" fill="none" stroke="#008000" stroke-width="3.4" stroke-linejoin="round"/>
<path d="M513.8 783.22 L518.47 791 L513.8 798.78 L509.13 791 Z" fill="none" stroke="#008000" stroke-width="3.4" stroke-linejoin="round"/>
<path d="M519.7 819.32 L524.37 827.1 L519.7 834.88 L515.03 827.1 Z" fill="none" stroke="#008000" stroke-width="3.4" stroke-linejoin="round"/>
<path d="M525.8 847.42 L530.47 855.2 L525.8 862.98 L521.13 855.2 Z" fill="none" stroke="#008000" stroke-width="3.4" stroke-linejoin="round"/>
<path d="M531.9 874.72 L536.57 882.5 L531.9 890.28 L527.23 882.5 Z" fill="none" stroke="#008000" stroke-width="3.4" stroke-linejoin="round"/>
<path d="M550.2 888.42 L554.87 896.2 L550.2 903.98 L545.53 896.2 Z" fill="none" stroke="#008000" stroke-width="3.4" stroke-linejoin="round"/>
<path d="M555.9 897.92 L560.57 905.7 L555.9 913.48 L551.23 905.7 Z" fill="none" stroke="#008000" stroke-width="3.4" stroke-linejoin="round"/>
<path d="M567.8 911.82 L572.47 919.6 L567.8 927.38 L563.13 919.6 Z" fill="none" stroke="#008000" stroke-width="3.4" stroke-linejoin="round"/>
<path d="M574.1 916.02 L578.77 923.8 L574.1 931.58 L569.43 923.8 Z" fill="none" stroke="#008000" stroke-width="3.4" stroke-linejoin="round"/>
<path d="M580.2 919.82 L584.87 927.6 L580.2 935.38 L575.53 927.6 Z" fill="none" stroke="#008000" stroke-width="3.4" stroke-linejoin="round"/>
<path d="M586.4 921.92 L591.07 929.7 L586.4 937.48 L581.73 929.7 Z" fill="none" stroke="#008000" stroke-width="3.4" stroke-linejoin="round"/>
<path d="M592.4 925.62 L597.07 933.4 L592.4 941.18 L587.73 933.4 Z" fill="none" stroke="#008000" stroke-width="3.4" stroke-linejoin="round"/>
<path d="M598.6 928.82 L603.27 936.6 L598.6 944.38 L593.93 936.6 Z" fill="none" stroke="#008000" stroke-width="3.4" stroke-linejoin="round"/>
<path d="M604.7 932.02 L609.37 939.8 L604.7 947.58 L600.03 939.8 Z" fill="none" stroke="#008000" stroke-width="3.4" stroke-linejoin="round"/>
<path d="M610.9 934.62 L615.57 942.4 L610.9 950.18 L606.23 942.4 Z" fill="none" stroke="#008000" stroke-width="3.4" stroke-linejoin="round"/>
<path d="M616.9 936.82 L621.57 944.6 L616.9 952.38 L612.23 944.6 Z" fill="none" stroke="#008000" stroke-width="3.4" stroke-linejoin="round"/>
<path d="M623.1 938.42 L627.77 946.2 L623.1 953.98 L618.43 946.2 Z" fill="none" stroke="#008000" stroke-width="3.4" stroke-linejoin="round"/>
<path d="M628.9 940.02 L633.57 947.8 L628.9 955.58 L624.23 947.8 Z" fill="none" stroke="#008000" stroke-width="3.4" stroke-linejoin="round"/>
<path d="M634.8 943.22 L639.47 951 L634.8 958.78 L630.13 951 Z" fill="none" stroke="#008000" stroke-width="3.4" stroke-linejoin="round"/>
<path d="M641 945.32 L645.67 953.1 L641 960.88 L636.33 953.1 Z" fill="none" stroke="#008000" stroke-width="3.4" stroke-linejoin="round"/>
<path d="M647 946.32 L651.67 954.1 L647 961.88 L642.33 954.1 Z" fill="none" stroke="#008000" stroke-width="3.4" stroke-linejoin="round"/>
<path d="M652.9 948.52 L657.57 956.3 L652.9 964.08 L648.23 956.3 Z" fill="none" stroke="#008000" stroke-width="3.4" stroke-linejoin="round"/>
<path d="M658.9 949.52 L663.57 957.3 L658.9 965.08 L654.23 957.3 Z" fill="none" stroke="#008000" stroke-width="3.4" stroke-linejoin="round"/>
<path d="M664.9 949.52 L669.57 957.3 L664.9 965.08 L660.23 957.3 Z" fill="none" stroke="#008000" stroke-width="3.4" stroke-linejoin="round"/>
<path d="M671 949.02 L675.67 956.8 L671 964.58 L666.33 956.8 Z" fill="none" stroke="#008000" stroke-width="3.4" stroke-linejoin="round"/>
<path d="M677.1 947.42 L681.77 955.2 L677.1 962.98 L672.43 955.2 Z" fill="none" stroke="#008000" stroke-width="3.4" stroke-linejoin="round"/>
<path d="M683.4 944.82 L688.07 952.6 L683.4 960.38 L678.73 952.6 Z" fill="none" stroke="#008000" stroke-width="3.4" stroke-linejoin="round"/>
</g>
<path d="M104.05 1016.68v-10.6M104.05 552.08v10.6M120.69 1016.68v-6.1M120.69 552.08v6.1M137.32 1016.68v-6.1M137.32 552.08v6.1M153.95 1016.68v-6.1M153.95 552.08v6.1M170.59 1016.68v-6.1M170.59 552.08v6.1M187.22 1016.68v-10.6M187.22 552.08v10.6M203.86 1016.68v-6.1M203.86 552.08v6.1M220.5 1016.68v-6.1M220.5 552.08v6.1M237.13 1016.68v-6.1M237.13 552.08v6.1M253.76 1016.68v-6.1M253.76 552.08v6.1M270.4 1016.68v-10.6M270.4 552.08v10.6M287.03 1016.68v-6.1M287.03 552.08v6.1M303.67 1016.68v-6.1M303.67 552.08v6.1M320.31 1016.68v-6.1M320.31 552.08v6.1M336.94 1016.68v-6.1M336.94 552.08v6.1M353.57 1016.68v-10.6M353.57 552.08v10.6M370.21 1016.68v-6.1M370.21 552.08v6.1M386.85 1016.68v-6.1M386.85 552.08v6.1M403.48 1016.68v-6.1M403.48 552.08v6.1M420.12 1016.68v-6.1M420.12 552.08v6.1M436.75 1016.68v-10.6M436.75 552.08v10.6M453.38 1016.68v-6.1M453.38 552.08v6.1M470.02 1016.68v-6.1M470.02 552.08v6.1M486.66 1016.68v-6.1M486.66 552.08v6.1M503.29 1016.68v-6.1M503.29 552.08v6.1M519.92 1016.68v-10.6M519.92 552.08v10.6M536.56 1016.68v-6.1M536.56 552.08v6.1M553.19 1016.68v-6.1M553.19 552.08v6.1M569.83 1016.68v-6.1M569.83 552.08v6.1M586.47 1016.68v-6.1M586.47 552.08v6.1M603.1 1016.68v-10.6M603.1 552.08v10.6M619.73 1016.68v-6.1M619.73 552.08v6.1M636.37 1016.68v-6.1M636.37 552.08v6.1M653 1016.68v-6.1M653 552.08v6.1M669.64 1016.68v-6.1M669.64 552.08v6.1M686.27 1016.68v-10.6M686.27 552.08v10.6M702.91 1016.68v-6.1M702.91 552.08v6.1M104.05 1016.68h10.6M702.91 1016.68h-10.6M104.05 1000.09h6.1M702.91 1000.09h-6.1M104.05 983.49h6.1M702.91 983.49h-6.1M104.05 966.9h6.1M702.91 966.9h-6.1M104.05 950.31h6.1M702.91 950.31h-6.1M104.05 933.72h10.6M702.91 933.72h-10.6M104.05 917.12h6.1M702.91 917.12h-6.1M104.05 900.53h6.1M702.91 900.53h-6.1M104.05 883.94h6.1M702.91 883.94h-6.1M104.05 867.34h6.1M702.91 867.34h-6.1M104.05 850.75h10.6M702.91 850.75h-10.6M104.05 834.16h6.1M702.91 834.16h-6.1M104.05 817.56h6.1M702.91 817.56h-6.1M104.05 800.97h6.1M702.91 800.97h-6.1M104.05 784.38h6.1M702.91 784.38h-6.1M104.05 767.78h10.6M702.91 767.78h-10.6M104.05 751.19h6.1M702.91 751.19h-6.1M104.05 734.6h6.1M702.91 734.6h-6.1M104.05 718.01h6.1M702.91 718.01h-6.1M104.05 701.41h6.1M702.91 701.41h-6.1M104.05 684.82h10.6M702.91 684.82h-10.6M104.05 668.23h6.1M702.91 668.23h-6.1M104.05 651.63h6.1M702.91 651.63h-6.1M104.05 635.04h6.1M702.91 635.04h-6.1M104.05 618.45h6.1M702.91 618.45h-6.1M104.05 601.86h10.6M702.91 601.86h-10.6M104.05 585.26h6.1M702.91 585.26h-6.1M104.05 568.67h6.1M702.91 568.67h-6.1M104.05 552.08h6.1M702.91 552.08h-6.1" stroke="#000" stroke-width="2.9" fill="none"/>
<rect x="104.05" y="552.08" width="598.86" height="464.6" fill="none" stroke="#000" stroke-width="3.3" stroke-linejoin="miter"/>
<text x="104.05" y="1046.48" font-size="22.8" text-anchor="middle">0</text>
<text x="187.22" y="1046.48" font-size="22.8" text-anchor="middle">50</text>
<text x="270.4" y="1046.48" font-size="22.8" text-anchor="middle">100</text>
<text x="353.57" y="1046.48" font-size="22.8" text-anchor="middle">150</text>
<text x="436.75" y="1046.48" font-size="22.8" text-anchor="middle">200</text>
<text x="519.92" y="1046.48" font-size="22.8" text-anchor="middle">250</text>
<text x="603.1" y="1046.48" font-size="22.8" text-anchor="middle">300</text>
<text x="686.27" y="1046.48" font-size="22.8" text-anchor="middle">350</text>
<text x="92" y="1025.43" font-size="22.8" text-anchor="end">−100</text>
<text x="92" y="942.47" font-size="22.8" text-anchor="end">−50</text>
<text x="92" y="859.5" font-size="22.8" text-anchor="end">0</text>
<text x="92" y="776.53" font-size="22.8" text-anchor="end">50</text>
<text x="92" y="693.57" font-size="22.8" text-anchor="end">100</text>
<text x="92" y="610.61" font-size="22.8" text-anchor="end">150</text>
<text x="403.48" y="1075.08" font-size="24.45" text-anchor="middle"><tspan font-style="italic">ϕ</tspan> [deg]</text>
<text transform="translate(18.3 784.38) rotate(-90)" font-size="24.45" text-anchor="middle">PA [deg]</text>
<text x="153.7" y="602.38" font-size="24.6">(d)</text>
<text x="270.55" y="602.38" font-size="30.3">No Aberration</text>
<rect x="112.9" y="948.18" width="230.7" height="59" rx="3.6" ry="3.6" fill="#fff" fill-opacity="0.8" stroke="#cccccc" stroke-width="1.25"/>
<circle cx="138.5" cy="964.58" r="5.6" fill="#000" fill-opacity="0.68"/>
<path d="M138.5 983.6 L143.17 991.38 L138.5 999.15 L133.83 991.38 Z" fill="none" stroke="#008000" stroke-width="3.4" stroke-linejoin="round"/>
<text x="170.8" y="969.28" font-size="18.2">Data at 430 MHz</text>
<text x="170.8" y="996.38" font-size="18.2">r_em=5R, h=0.4R</text>
<g clip-path="url(#clip11)">
<circle cx="875.1" cy="703.2" r="5.6" fill="#000" fill-opacity="0.68"/>
<circle cx="883" cy="708.1" r="5.6" fill="#000" fill-opacity="0.68"/>
<circle cx="890.1" cy="705.4" r="5.6" fill="#000" fill-opacity="0.68"/>
<circle cx="897.2" cy="714.6" r="5.6" fill="#000" fill-opacity="0.68"/>
<circle cx="915.9" cy="714.1" r="5.6" fill="#000" fill-opacity="0.68"/>
<circle cx="902.2" cy="724.8" r="5.6" fill="#000" fill-opacity="0.68"/>
<circle cx="910.5" cy="726.2" r="5.6" fill="#000" fill-opacity="0.68"/>
<circle cx="920.1" cy="731.6" r="5.6" fill="#000" fill-opacity="0.68"/>
<circle cx="926.7" cy="731.6" r="5.6" fill="#000" fill-opacity="0.68"/>
<circle cx="930.5" cy="714.1" r="5.6" fill="#000" fill-opacity="0.68"/>
<circle cx="936.7" cy="707.1" r="5.6" fill="#000" fill-opacity="0.68"/>
<circle cx="939.2" cy="724.8" r="5.6" fill="#000" fill-opacity="0.68"/>
<circle cx="944.2" cy="727.9" r="5.6" fill="#000" fill-opacity="0.68"/>
<circle cx="940.9" cy="737.9" r="5.6" fill="#000" fill-opacity="0.68"/>
<circle cx="949.2" cy="719.1" r="5.6" fill="#000" fill-opacity="0.68"/>
<circle cx="949.6" cy="750.8" r="5.6" fill="#000" fill-opacity="0.68"/>
<circle cx="956.7" cy="715.4" r="5.6" fill="#000" fill-opacity="0.68"/>
<circle cx="958" cy="738.5" r="5.6" fill="#000" fill-opacity="0.68"/>
<circle cx="966.4" cy="721.2" r="5.6" fill="#000" fill-opacity="0.68"/>
<circle cx="966.4" cy="731.6" r="5.6" fill="#000" fill-opacity="0.68"/>
<circle cx="974.3" cy="735.4" r="5.6" fill="#000" fill-opacity="0.68"/>
<circle cx="966.4" cy="743.3" r="5.6" fill="#000" fill-opacity="0.68"/>
<circle cx="976.6" cy="751.5" r="5.6" fill="#000" fill-opacity="0.68"/>
<circle cx="980.1" cy="760.2" r="5.6" fill="#000" fill-opacity="0.68"/>
<circle cx="984.2" cy="747.8" r="5.6" fill="#000" fill-opacity="0.68"/>
<circle cx="988.6" cy="746.3" r="5.6" fill="#000" fill-opacity="0.68"/>
<circle cx="994.1" cy="746.3" r="5.6" fill="#000" fill-opacity="0.68"/>
<circle cx="998.7" cy="748.2" r="5.6" fill="#000" fill-opacity="0.68"/>
<circle cx="1006.4" cy="748" r="5.6" fill="#000" fill-opacity="0.68"/>
<circle cx="1012.3" cy="759.4" r="5.6" fill="#000" fill-opacity="0.68"/>
<circle cx="1017.5" cy="743.4" r="5.6" fill="#000" fill-opacity="0.68"/>
<circle cx="1027.2" cy="735.8" r="5.6" fill="#000" fill-opacity="0.68"/>
<circle cx="1045.1" cy="751.6" r="5.6" fill="#000" fill-opacity="0.68"/>
<circle cx="1207.6" cy="636.7" r="5.6" fill="#000" fill-opacity="0.68"/>
<circle cx="1218.7" cy="638.9" r="5.6" fill="#000" fill-opacity="0.68"/>
<circle cx="1227" cy="638.5" r="5.6" fill="#000" fill-opacity="0.68"/>
<circle cx="1226.6" cy="646.2" r="5.6" fill="#000" fill-opacity="0.68"/>
<circle cx="1235.1" cy="649.4" r="5.6" fill="#000" fill-opacity="0.68"/>
<circle cx="1235.8" cy="654.5" r="5.6" fill="#000" fill-opacity="0.68"/>
<circle cx="1240.3" cy="656.3" r="5.6" fill="#000" fill-opacity="0.68"/>
<circle cx="1246.4" cy="662.8" r="5.6" fill="#000" fill-opacity="0.68"/>
<circle cx="1251.7" cy="666.8" r="5.6" fill="#000" fill-opacity="0.68"/>
<circle cx="1254.3" cy="659.8" r="5.6" fill="#000" fill-opacity="0.68"/>
<circle cx="1259.7" cy="657.7" r="5.6" fill="#000" fill-opacity="0.68"/>
<circle cx="1264.2" cy="658" r="5.6" fill="#000" fill-opacity="0.68"/>
<circle cx="1271.4" cy="654.6" r="5.6" fill="#000" fill-opacity="0.68"/>
<circle cx="1274.2" cy="654.6" r="5.6" fill="#000" fill-opacity="0.68"/>
<circle cx="1278.6" cy="657.5" r="5.6" fill="#000" fill-opacity="0.68"/>
<circle cx="1282.1" cy="664.1" r="5.6" fill="#000" fill-opacity="0.68"/>
<circle cx="1282.1" cy="676.6" r="5.6" fill="#000" fill-opacity="0.68"/>
<circle cx="1282.1" cy="682.9" r="5.6" fill="#000" fill-opacity="0.68"/>
<circle cx="1295.9" cy="674.1" r="5.6" fill="#000" fill-opacity="0.68"/>
<circle cx="1294.1" cy="684" r="5.6" fill="#000" fill-opacity="0.68"/>
<circle cx="1291.8" cy="688.1" r="5.6" fill="#000" fill-opacity="0.68"/>
<circle cx="1303.1" cy="682.6" r="5.6" fill="#000" fill-opacity="0.68"/>
<circle cx="1307.6" cy="692.1" r="5.6" fill="#000" fill-opacity="0.68"/>
<circle cx="1314.7" cy="681.6" r="5.6" fill="#000" fill-opacity="0.68"/>
<circle cx="1318.3" cy="674.6" r="5.6" fill="#000" fill-opacity="0.68"/>
<circle cx="1321.2" cy="665.4" r="5.6" fill="#000" fill-opacity="0.68"/>
<circle cx="1322.6" cy="649.1" r="5.6" fill="#000" fill-opacity="0.68"/>
<circle cx="1326.4" cy="640" r="5.6" fill="#000" fill-opacity="0.68"/>
<circle cx="1331.4" cy="635" r="5.6" fill="#000" fill-opacity="0.68"/>
<circle cx="1338.8" cy="637.9" r="5.6" fill="#000" fill-opacity="0.68"/>
<circle cx="1345.9" cy="642.5" r="5.6" fill="#000" fill-opacity="0.68"/>
<circle cx="1352.6" cy="650.4" r="5.6" fill="#000" fill-opacity="0.68"/>
<circle cx="1366" cy="646.4" r="5.6" fill="#000" fill-opacity="0.68"/>
<circle cx="1384.3" cy="638.2" r="5.6" fill="#000" fill-opacity="0.68"/>
<circle cx="1390.1" cy="648.3" r="5.6" fill="#000" fill-opacity="0.68"/>
<circle cx="1379.7" cy="656.4" r="5.6" fill="#000" fill-opacity="0.68"/>
<circle cx="1403.6" cy="651.2" r="5.6" fill="#000" fill-opacity="0.68"/>
<circle cx="1416.9" cy="665.8" r="5.6" fill="#000" fill-opacity="0.68"/>
<path d="M909.3 690.6 L920.1 685.2 L920.1 696 Z" fill="none" stroke="#bf00bf" stroke-width="3.4" stroke-linejoin="round"/>
<path d="M922.2 689.4 L933 684 L933 694.8 Z" fill="none" stroke="#bf00bf" stroke-width="3.4" stroke-linejoin="round"/>
<path d="M933.8 689.8 L944.6 684.4 L944.6 695.2 Z" fill="none" stroke="#bf00bf" stroke-width="3.4" stroke-linejoin="round"/>
<path d="M945.9 686.9 L956.7 681.5 L956.7 692.3 Z" fill="none" stroke="#bf00bf" stroke-width="3.4" stroke-linejoin="round"/>
<path d="M958 686.5 L968.8 681.1 L968.8 691.9 Z" fill="none" stroke="#bf00bf" stroke-width="3.4" stroke-linejoin="round"/>
<path d="M971.1 687.4 L981.9 682 L981.9 692.8 Z" fill="none" stroke="#bf00bf" stroke-width="3.4" stroke-linejoin="round"/>
<path d="M982.7 690.3 L993.5 684.9 L993.5 695.7 Z" fill="none" stroke="#bf00bf" stroke-width="3.4" stroke-linejoin="round"/>
<path d="M995.3 691.8 L1006.1 686.4 L1006.1 697.2 Z" fill="none" stroke="#bf00bf" stroke-width="3.4" stroke-linejoin="round"/>
<path d="M1007.4 692.7 L1018.2 687.3 L1018.2 698.1 Z" fill="none" stroke="#bf00bf" stroke-width="3.4" stroke-linejoin="round"/>
<path d="M1019.5 695.7 L1030.3 690.3 L1030.3 701.1 Z" fill="none" stroke="#bf00bf" stroke-width="3.4" stroke-linejoin="round"/>
<path d="M1031.1 700.5 L1041.9 695.1 L1041.9 705.9 Z" fill="none" stroke="#bf00bf" stroke-width="3.4" stroke-linejoin="round"/>
<path d="M1043.7 701 L1054.5 695.6 L1054.5 706.4 Z" fill="none" stroke="#bf00bf" stroke-width="3.4" stroke-linejoin="round"/>
<path d="M1055.8 704.8 L1066.6 699.4 L1066.6 710.2 Z" fill="none" stroke="#bf00bf" stroke-width="3.4" stroke-linejoin="round"/>
<path d="M1068.4 708.2 L1079.2 702.8 L1079.2 713.6 Z" fill="none" stroke="#bf00bf" stroke-width="3.4" stroke-linejoin="round"/>
<path d="M1080.5 711.6 L1091.3 706.2 L1091.3 717 Z" fill="none" stroke="#bf00bf" stroke-width="3.4" stroke-linejoin="round"/>
<path d="M1093.2 713.1 L1104 707.7 L1104 718.5 Z" fill="none" stroke="#bf00bf" stroke-width="3.4" stroke-linejoin="round"/>
<path d="M1202.6 656.3 L1213.4 650.9 L1213.4 661.7 Z" fill="none" stroke="#bf00bf" stroke-width="3.4" stroke-linejoin="round"/>
<path d="M1215.2 660 L1226 654.6 L1226 665.4 Z" fill="none" stroke="#bf00bf" stroke-width="3.4" stroke-linejoin="round"/>
<path d="M1227.8 661.6 L1238.6 656.2 L1238.6 667 Z" fill="none" stroke="#bf00bf" stroke-width="3.4" stroke-linejoin="round"/>
<path d="M1239.7 662.6 L1250.5 657.2 L1250.5 668 Z" fill="none" stroke="#bf00bf" stroke-width="3.4" stroke-linejoin="round"/>
<path d="M1251.6 662.8 L1262.4 657.4 L1262.4 668.2 Z" fill="none" stroke="#bf00bf" stroke-width="3.4" stroke-linejoin="round"/>
<path d="M1263.7 661.6 L1274.5 656.2 L1274.5 667 Z" fill="none" stroke="#bf00bf" stroke-width="3.4" stroke-linejoin="round"/>
<path d="M1276.8 660.7 L1287.6 655.3 L1287.6 666.1 Z" fill="none" stroke="#bf00bf" stroke-width="3.4" stroke-linejoin="round"/>
<path d="M1300.6 660.1 L1311.4 654.7 L1311.4 665.5 Z" fill="none" stroke="#bf00bf" stroke-width="3.4" stroke-linejoin="round"/>
<path d="M1312.6 658.6 L1323.4 653.2 L1323.4 664 Z" fill="none" stroke="#bf00bf" stroke-width="3.4" stroke-linejoin="round"/>
<path d="M1325.1 657.7 L1335.9 652.3 L1335.9 663.1 Z" fill="none" stroke="#bf00bf" stroke-width="3.4" stroke-linejoin="round"/>
<path d="M1190.6 871.5 L1201.4 866.1 L1201.4 876.9 Z" fill="none" stroke="#bf00bf" stroke-width="3.4" stroke-linejoin="round"/>
</g>
<path d="M835.85 1016.68v-10.6M835.85 552.08v10.6M852.49 1016.68v-6.1M852.49 552.08v6.1M869.12 1016.68v-6.1M869.12 552.08v6.1M885.75 1016.68v-6.1M885.75 552.08v6.1M902.39 1016.68v-6.1M902.39 552.08v6.1M919.02 1016.68v-10.6M919.02 552.08v10.6M935.66 1016.68v-6.1M935.66 552.08v6.1M952.3 1016.68v-6.1M952.3 552.08v6.1M968.93 1016.68v-6.1M968.93 552.08v6.1M985.57 1016.68v-6.1M985.57 552.08v6.1M1002.2 1016.68v-10.6M1002.2 552.08v10.6M1018.84 1016.68v-6.1M1018.84 552.08v6.1M1035.47 1016.68v-6.1M1035.47 552.08v6.1M1052.11 1016.68v-6.1M1052.11 552.08v6.1M1068.74 1016.68v-6.1M1068.74 552.08v6.1M1085.38 1016.68v-10.6M1085.38 552.08v10.6M1102.01 1016.68v-6.1M1102.01 552.08v6.1M1118.64 1016.68v-6.1M1118.64 552.08v6.1M1135.28 1016.68v-6.1M1135.28 552.08v6.1M1151.91 1016.68v-6.1M1151.91 552.08v6.1M1168.55 1016.68v-10.6M1168.55 552.08v10.6M1185.18 1016.68v-6.1M1185.18 552.08v6.1M1201.82 1016.68v-6.1M1201.82 552.08v6.1M1218.45 1016.68v-6.1M1218.45 552.08v6.1M1235.09 1016.68v-6.1M1235.09 552.08v6.1M1251.72 1016.68v-10.6M1251.72 552.08v10.6M1268.36 1016.68v-6.1M1268.36 552.08v6.1M1284.99 1016.68v-6.1M1284.99 552.08v6.1M1301.63 1016.68v-6.1M1301.63 552.08v6.1M1318.27 1016.68v-6.1M1318.27 552.08v6.1M1334.9 1016.68v-10.6M1334.9 552.08v10.6M1351.53 1016.68v-6.1M1351.53 552.08v6.1M1368.17 1016.68v-6.1M1368.17 552.08v6.1M1384.81 1016.68v-6.1M1384.81 552.08v6.1M1401.44 1016.68v-6.1M1401.44 552.08v6.1M1418.08 1016.68v-10.6M1418.08 552.08v10.6M1434.71 1016.68v-6.1M1434.71 552.08v6.1M835.85 1016.68h10.6M1434.71 1016.68h-10.6M835.85 1000.09h6.1M1434.71 1000.09h-6.1M835.85 983.49h6.1M1434.71 983.49h-6.1M835.85 966.9h6.1M1434.71 966.9h-6.1M835.85 950.31h6.1M1434.71 950.31h-6.1M835.85 933.72h10.6M1434.71 933.72h-10.6M835.85 917.12h6.1M1434.71 917.12h-6.1M835.85 900.53h6.1M1434.71 900.53h-6.1M835.85 883.94h6.1M1434.71 883.94h-6.1M835.85 867.34h6.1M1434.71 867.34h-6.1M835.85 850.75h10.6M1434.71 850.75h-10.6M835.85 834.16h6.1M1434.71 834.16h-6.1M835.85 817.56h6.1M1434.71 817.56h-6.1M835.85 800.97h6.1M1434.71 800.97h-6.1M835.85 784.38h6.1M1434.71 784.38h-6.1M835.85 767.78h10.6M1434.71 767.78h-10.6M835.85 751.19h6.1M1434.71 751.19h-6.1M835.85 734.6h6.1M1434.71 734.6h-6.1M835.85 718.01h6.1M1434.71 718.01h-6.1M835.85 701.41h6.1M1434.71 701.41h-6.1M835.85 684.82h10.6M1434.71 684.82h-10.6M835.85 668.23h6.1M1434.71 668.23h-6.1M835.85 651.63h6.1M1434.71 651.63h-6.1M835.85 635.04h6.1M1434.71 635.04h-6.1M835.85 618.45h6.1M1434.71 618.45h-6.1M835.85 601.86h10.6M1434.71 601.86h-10.6M835.85 585.26h6.1M1434.71 585.26h-6.1M835.85 568.67h6.1M1434.71 568.67h-6.1M835.85 552.08h6.1M1434.71 552.08h-6.1" stroke="#000" stroke-width="2.9" fill="none"/>
<rect x="835.85" y="552.08" width="598.86" height="464.6" fill="none" stroke="#000" stroke-width="3.3" stroke-linejoin="miter"/>
<text x="835.85" y="1046.48" font-size="22.8" text-anchor="middle">0</text>
<text x="919.02" y="1046.48" font-size="22.8" text-anchor="middle">50</text>
<text x="1002.2" y="1046.48" font-size="22.8" text-anchor="middle">100</text>
<text x="1085.38" y="1046.48" font-size="22.8" text-anchor="middle">150</text>
<text x="1168.55" y="1046.48" font-size="22.8" text-anchor="middle">200</text>
<text x="1251.72" y="1046.48" font-size="22.8" text-anchor="middle">250</text>
<text x="1334.9" y="1046.48" font-size="22.8" text-anchor="middle">300</text>
<text x="1418.08" y="1046.48" font-size="22.8" text-anchor="middle">350</text>
<text x="823.8" y="1025.43" font-size="22.8" text-anchor="end">−100</text>
<text x="823.8" y="942.47" font-size="22.8" text-anchor="end">−50</text>
<text x="823.8" y="859.5" font-size="22.8" text-anchor="end">0</text>
<text x="823.8" y="776.53" font-size="22.8" text-anchor="end">50</text>
<text x="823.8" y="693.57" font-size="22.8" text-anchor="end">100</text>
<text x="823.8" y="610.61" font-size="22.8" text-anchor="end">150</text>
<text x="1135.28" y="1075.08" font-size="24.45" text-anchor="middle"><tspan font-style="italic">ϕ</tspan> [deg]</text>
<text transform="translate(750.1 784.38) rotate(-90)" font-size="24.45" text-anchor="middle">PA [deg]</text>
<text x="885.5" y="602.38" font-size="24.6">(e)</text>
<text x="1002.35" y="602.38" font-size="30.3">No Aberration</text>
<rect x="844.7" y="948.18" width="230.7" height="59" rx="3.6" ry="3.6" fill="#fff" fill-opacity="0.8" stroke="#cccccc" stroke-width="1.25"/>
<circle cx="870.3" cy="964.58" r="5.6" fill="#000" fill-opacity="0.68"/>
<path d="M864.9 991.38 L875.7 985.98 L875.7 996.78 Z" fill="none" stroke="#bf00bf" stroke-width="3.4" stroke-linejoin="round"/>
<text x="902.6" y="969.28" font-size="18.2">Data at 430 MHz</text>
<text x="902.6" y="996.38" font-size="18.2">r_em=7R, h=7.0R</text>
<g clip-path="url(#clip21)">
<circle cx="1606.7" cy="703.2" r="5.6" fill="#000" fill-opacity="0.8"/>
<circle cx="1614.6" cy="708.1" r="5.6" fill="#000" fill-opacity="0.8"/>
<circle cx="1621.7" cy="705.4" r="5.6" fill="#000" fill-opacity="0.8"/>
<circle cx="1628.8" cy="714.6" r="5.6" fill="#000" fill-opacity="0.8"/>
<circle cx="1647.5" cy="714.1" r="5.6" fill="#000" fill-opacity="0.8"/>
<circle cx="1633.8" cy="724.8" r="5.6" fill="#000" fill-opacity="0.8"/>
<circle cx="1642.1" cy="726.2" r="5.6" fill="#000" fill-opacity="0.8"/>
<circle cx="1651.7" cy="731.6" r="5.6" fill="#000" fill-opacity="0.8"/>
<circle cx="1658.3" cy="731.6" r="5.6" fill="#000" fill-opacity="0.8"/>
<circle cx="1662.1" cy="714.1" r="5.6" fill="#000" fill-opacity="0.8"/>
<circle cx="1668.3" cy="707.1" r="5.6" fill="#000" fill-opacity="0.8"/>
<circle cx="1670.8" cy="724.8" r="5.6" fill="#000" fill-opacity="0.8"/>
<circle cx="1675.8" cy="727.9" r="5.6" fill="#000" fill-opacity="0.8"/>
<circle cx="1672.5" cy="737.9" r="5.6" fill="#000" fill-opacity="0.8"/>
<circle cx="1680.8" cy="719.1" r="5.6" fill="#000" fill-opacity="0.8"/>
<circle cx="1681.2" cy="750.8" r="5.6" fill="#000" fill-opacity="0.8"/>
<circle cx="1688.3" cy="715.4" r="5.6" fill="#000" fill-opacity="0.8"/>
<circle cx="1689.6" cy="738.5" r="5.6" fill="#000" fill-opacity="0.8"/>
<circle cx="1698" cy="721.2" r="5.6" fill="#000" fill-opacity="0.8"/>
<circle cx="1698" cy="731.6" r="5.6" fill="#000" fill-opacity="0.8"/>
<circle cx="1705.9" cy="735.4" r="5.6" fill="#000" fill-opacity="0.8"/>
<circle cx="1698" cy="743.3" r="5.6" fill="#000" fill-opacity="0.8"/>
<circle cx="1708.2" cy="751.5" r="5.6" fill="#000" fill-opacity="0.8"/>
<circle cx="1711.7" cy="760.2" r="5.6" fill="#000" fill-opacity="0.8"/>
<circle cx="1715.8" cy="747.8" r="5.6" fill="#000" fill-opacity="0.8"/>
<circle cx="1720.2" cy="746.3" r="5.6" fill="#000" fill-opacity="0.8"/>
<circle cx="1725.7" cy="746.3" r="5.6" fill="#000" fill-opacity="0.8"/>
<circle cx="1730.3" cy="748.2" r="5.6" fill="#000" fill-opacity="0.8"/>
<circle cx="1738" cy="748" r="5.6" fill="#000" fill-opacity="0.8"/>
<circle cx="1743.9" cy="759.4" r="5.6" fill="#000" fill-opacity="0.8"/>
<circle cx="1749.1" cy="743.4" r="5.6" fill="#000" fill-opacity="0.8"/>
<circle cx="1758.8" cy="735.8" r="5.6" fill="#000" fill-opacity="0.8"/>
<circle cx="1776.7" cy="751.6" r="5.6" fill="#000" fill-opacity="0.8"/>
<circle cx="1939.2" cy="636.7" r="5.6" fill="#000" fill-opacity="0.8"/>
<circle cx="1950.3" cy="638.9" r="5.6" fill="#000" fill-opacity="0.8"/>
<circle cx="1958.6" cy="638.5" r="5.6" fill="#000" fill-opacity="0.8"/>
<circle cx="1958.2" cy="646.2" r="5.6" fill="#000" fill-opacity="0.8"/>
<circle cx="1966.7" cy="649.4" r="5.6" fill="#000" fill-opacity="0.8"/>
<circle cx="1967.4" cy="654.5" r="5.6" fill="#000" fill-opacity="0.8"/>
<circle cx="1971.9" cy="656.3" r="5.6" fill="#000" fill-opacity="0.8"/>
<circle cx="1978" cy="662.8" r="5.6" fill="#000" fill-opacity="0.8"/>
<circle cx="1983.3" cy="666.8" r="5.6" fill="#000" fill-opacity="0.8"/>
<circle cx="1985.9" cy="659.8" r="5.6" fill="#000" fill-opacity="0.8"/>
<circle cx="1991.3" cy="657.7" r="5.6" fill="#000" fill-opacity="0.8"/>
<circle cx="1995.8" cy="658" r="5.6" fill="#000" fill-opacity="0.8"/>
<circle cx="2003" cy="654.6" r="5.6" fill="#000" fill-opacity="0.8"/>
<circle cx="2005.8" cy="654.6" r="5.6" fill="#000" fill-opacity="0.8"/>
<circle cx="2010.2" cy="657.5" r="5.6" fill="#000" fill-opacity="0.8"/>
<circle cx="2013.7" cy="664.1" r="5.6" fill="#000" fill-opacity="0.8"/>
<circle cx="2013.7" cy="676.6" r="5.6" fill="#000" fill-opacity="0.8"/>
<circle cx="2013.7" cy="682.9" r="5.6" fill="#000" fill-opacity="0.8"/>
<circle cx="2027.5" cy="674.1" r="5.6" fill="#000" fill-opacity="0.8"/>
<circle cx="2025.7" cy="684" r="5.6" fill="#000" fill-opacity="0.8"/>
<circle cx="2023.4" cy="688.1" r="5.6" fill="#000" fill-opacity="0.8"/>
<circle cx="2034.7" cy="682.6" r="5.6" fill="#000" fill-opacity="0.8"/>
<circle cx="2039.2" cy="692.1" r="5.6" fill="#000" fill-opacity="0.8"/>
<circle cx="2046.3" cy="681.6" r="5.6" fill="#000" fill-opacity="0.8"/>
<circle cx="2049.9" cy="674.6" r="5.6" fill="#000" fill-opacity="0.8"/>
<circle cx="2052.8" cy="665.4" r="5.6" fill="#000" fill-opacity="0.8"/>
<circle cx="2054.2" cy="649.1" r="5.6" fill="#000" fill-opacity="0.8"/>
<circle cx="2058" cy="640" r="5.6" fill="#000" fill-opacity="0.8"/>
<circle cx="2063" cy="635" r="5.6" fill="#000" fill-opacity="0.8"/>
<circle cx="2070.4" cy="637.9" r="5.6" fill="#000" fill-opacity="0.8"/>
<circle cx="2077.5" cy="642.5" r="5.6" fill="#000" fill-opacity="0.8"/>
<circle cx="2084.2" cy="650.4" r="5.6" fill="#000" fill-opacity="0.8"/>
<circle cx="2097.6" cy="646.4" r="5.6" fill="#000" fill-opacity="0.8"/>
<circle cx="2115.9" cy="638.2" r="5.6" fill="#000" fill-opacity="0.8"/>
<circle cx="2121.7" cy="648.3" r="5.6" fill="#000" fill-opacity="0.8"/>
<circle cx="2111.3" cy="656.4" r="5.6" fill="#000" fill-opacity="0.8"/>
<circle cx="2135.2" cy="651.2" r="5.6" fill="#000" fill-opacity="0.8"/>
<circle cx="2148.5" cy="665.8" r="5.6" fill="#000" fill-opacity="0.8"/>
<path d="M1643.7 770.6 L1632.9 776 L1632.9 765.2 Z" fill="none" stroke="#b22222" stroke-width="3.4" stroke-linejoin="round"/>
<path d="M1625.1 820.2 L1614.3 825.6 L1614.3 814.8 Z" fill="none" stroke="#b22222" stroke-width="3.4" stroke-linejoin="round"/>
<path d="M1637.7 820.2 L1626.9 825.6 L1626.9 814.8 Z" fill="none" stroke="#b22222" stroke-width="3.4" stroke-linejoin="round"/>
<path d="M1631.5 853.9 L1620.7 859.3 L1620.7 848.5 Z" fill="none" stroke="#b22222" stroke-width="3.4" stroke-linejoin="round"/>
<path d="M1674 737 L1663.2 742.4 L1663.2 731.6 Z" fill="none" stroke="#b22222" stroke-width="3.4" stroke-linejoin="round"/>
<path d="M1679.8 732.2 L1669 737.6 L1669 726.8 Z" fill="none" stroke="#b22222" stroke-width="3.4" stroke-linejoin="round"/>
<path d="M1692.3 727.2 L1681.5 732.6 L1681.5 721.8 Z" fill="none" stroke="#b22222" stroke-width="3.4" stroke-linejoin="round"/>
<path d="M1716.9 729.3 L1706.1 734.7 L1706.1 723.9 Z" fill="none" stroke="#b22222" stroke-width="3.4" stroke-linejoin="round"/>
<path d="M1728.6 728.7 L1717.8 734.1 L1717.8 723.3 Z" fill="none" stroke="#b22222" stroke-width="3.4" stroke-linejoin="round"/>
<path d="M1735.2 727.8 L1724.4 733.2 L1724.4 722.4 Z" fill="none" stroke="#b22222" stroke-width="3.4" stroke-linejoin="round"/>
<path d="M1747.2 726.3 L1736.4 731.7 L1736.4 720.9 Z" fill="none" stroke="#b22222" stroke-width="3.4" stroke-linejoin="round"/>
<path d="M1753.2 725.9 L1742.4 731.3 L1742.4 720.5 Z" fill="none" stroke="#b22222" stroke-width="3.4" stroke-linejoin="round"/>
<path d="M1765.1 726.7 L1754.3 732.1 L1754.3 721.3 Z" fill="none" stroke="#b22222" stroke-width="3.4" stroke-linejoin="round"/>
<path d="M1777.4 726.6 L1766.6 732 L1766.6 721.2 Z" fill="none" stroke="#b22222" stroke-width="3.4" stroke-linejoin="round"/>
<path d="M1789.4 726.4 L1778.6 731.8 L1778.6 721 Z" fill="none" stroke="#b22222" stroke-width="3.4" stroke-linejoin="round"/>
<path d="M1796 727.9 L1785.2 733.3 L1785.2 722.5 Z" fill="none" stroke="#b22222" stroke-width="3.4" stroke-linejoin="round"/>
<path d="M1801.7 729 L1790.9 734.4 L1790.9 723.6 Z" fill="none" stroke="#b22222" stroke-width="3.4" stroke-linejoin="round"/>
<path d="M1813.4 727.8 L1802.6 733.2 L1802.6 722.4 Z" fill="none" stroke="#b22222" stroke-width="3.4" stroke-linejoin="round"/>
<path d="M1819.3 729.4 L1808.5 734.8 L1808.5 724 Z" fill="none" stroke="#b22222" stroke-width="3.4" stroke-linejoin="round"/>
<path d="M1825.7 727.9 L1814.9 733.3 L1814.9 722.5 Z" fill="none" stroke="#b22222" stroke-width="3.4" stroke-linejoin="round"/>
<path d="M1831.5 723.9 L1820.7 729.3 L1820.7 718.5 Z" fill="none" stroke="#b22222" stroke-width="3.4" stroke-linejoin="round"/>
<path d="M1837.4 722 L1826.6 727.4 L1826.6 716.6 Z" fill="none" stroke="#b22222" stroke-width="3.4" stroke-linejoin="round"/>
<path d="M1897.7 818.9 L1886.9 824.3 L1886.9 813.5 Z" fill="none" stroke="#b22222" stroke-width="3.4" stroke-linejoin="round"/>
<path d="M1909.7 842.8 L1898.9 848.2 L1898.9 837.4 Z" fill="none" stroke="#b22222" stroke-width="3.4" stroke-linejoin="round"/>
<path d="M1903.7 861.3 L1892.9 866.7 L1892.9 855.9 Z" fill="none" stroke="#b22222" stroke-width="3.4" stroke-linejoin="round"/>
<path d="M1915.6 902.2 L1904.8 907.6 L1904.8 896.8 Z" fill="none" stroke="#b22222" stroke-width="3.4" stroke-linejoin="round"/>
<path d="M1934.8 948.1 L1924 953.5 L1924 942.7 Z" fill="none" stroke="#b22222" stroke-width="3.4" stroke-linejoin="round"/>
<path d="M1939.8 948.2 L1929 953.6 L1929 942.8 Z" fill="none" stroke="#b22222" stroke-width="3.4" stroke-linejoin="round"/>
<path d="M1928.4 957.5 L1917.6 962.9 L1917.6 952.1 Z" fill="none" stroke="#b22222" stroke-width="3.4" stroke-linejoin="round"/>
<path d="M1952.7 662 L1941.9 667.4 L1941.9 656.6 Z" fill="none" stroke="#b22222" stroke-width="3.4" stroke-linejoin="round"/>
<path d="M1958.9 665.3 L1948.1 670.7 L1948.1 659.9 Z" fill="none" stroke="#b22222" stroke-width="3.4" stroke-linejoin="round"/>
<path d="M1964.7 671.9 L1953.9 677.3 L1953.9 666.5 Z" fill="none" stroke="#b22222" stroke-width="3.4" stroke-linejoin="round"/>
<path d="M1977.1 671.1 L1966.3 676.5 L1966.3 665.7 Z" fill="none" stroke="#b22222" stroke-width="3.4" stroke-linejoin="round"/>
<path d="M1983.4 672.5 L1972.6 677.9 L1972.6 667.1 Z" fill="none" stroke="#b22222" stroke-width="3.4" stroke-linejoin="round"/>
<path d="M2007 669 L1996.2 674.4 L1996.2 663.6 Z" fill="none" stroke="#b22222" stroke-width="3.4" stroke-linejoin="round"/>
<path d="M2012 667.4 L2001.2 672.8 L2001.2 662 Z" fill="none" stroke="#b22222" stroke-width="3.4" stroke-linejoin="round"/>
<path d="M2019.4 662.8 L2008.6 668.2 L2008.6 657.4 Z" fill="none" stroke="#b22222" stroke-width="3.4" stroke-linejoin="round"/>
<path d="M2031 666.5 L2020.2 671.9 L2020.2 661.1 Z" fill="none" stroke="#b22222" stroke-width="3.4" stroke-linejoin="round"/>
<path d="M2037.7 667.4 L2026.9 672.8 L2026.9 662 Z" fill="none" stroke="#b22222" stroke-width="3.4" stroke-linejoin="round"/>
<path d="M2043.5 662.6 L2032.7 668 L2032.7 657.2 Z" fill="none" stroke="#b22222" stroke-width="3.4" stroke-linejoin="round"/>
<path d="M2050.1 662.8 L2039.3 668.2 L2039.3 657.4 Z" fill="none" stroke="#b22222" stroke-width="3.4" stroke-linejoin="round"/>
<path d="M2061.7 664.5 L2050.9 669.9 L2050.9 659.1 Z" fill="none" stroke="#b22222" stroke-width="3.4" stroke-linejoin="round"/>
<path d="M2085.4 668.2 L2074.6 673.6 L2074.6 662.8 Z" fill="none" stroke="#b22222" stroke-width="3.4" stroke-linejoin="round"/>
</g>
<path d="M1567.45 1016.68v-10.6M1567.45 552.08v10.6M1584.09 1016.68v-6.1M1584.09 552.08v6.1M1600.72 1016.68v-6.1M1600.72 552.08v6.1M1617.36 1016.68v-6.1M1617.36 552.08v6.1M1633.99 1016.68v-6.1M1633.99 552.08v6.1M1650.62 1016.68v-10.6M1650.62 552.08v10.6M1667.26 1016.68v-6.1M1667.26 552.08v6.1M1683.89 1016.68v-6.1M1683.89 552.08v6.1M1700.53 1016.68v-6.1M1700.53 552.08v6.1M1717.16 1016.68v-6.1M1717.16 552.08v6.1M1733.8 1016.68v-10.6M1733.8 552.08v10.6M1750.43 1016.68v-6.1M1750.43 552.08v6.1M1767.07 1016.68v-6.1M1767.07 552.08v6.1M1783.7 1016.68v-6.1M1783.7 552.08v6.1M1800.34 1016.68v-6.1M1800.34 552.08v6.1M1816.98 1016.68v-10.6M1816.98 552.08v10.6M1833.61 1016.68v-6.1M1833.61 552.08v6.1M1850.25 1016.68v-6.1M1850.25 552.08v6.1M1866.88 1016.68v-6.1M1866.88 552.08v6.1M1883.52 1016.68v-6.1M1883.52 552.08v6.1M1900.15 1016.68v-10.6M1900.15 552.08v10.6M1916.79 1016.68v-6.1M1916.79 552.08v6.1M1933.42 1016.68v-6.1M1933.42 552.08v6.1M1950.06 1016.68v-6.1M1950.06 552.08v6.1M1966.69 1016.68v-6.1M1966.69 552.08v6.1M1983.33 1016.68v-10.6M1983.33 552.08v10.6M1999.96 1016.68v-6.1M1999.96 552.08v6.1M2016.6 1016.68v-6.1M2016.6 552.08v6.1M2033.23 1016.68v-6.1M2033.23 552.08v6.1M2049.87 1016.68v-6.1M2049.87 552.08v6.1M2066.5 1016.68v-10.6M2066.5 552.08v10.6M2083.14 1016.68v-6.1M2083.14 552.08v6.1M2099.77 1016.68v-6.1M2099.77 552.08v6.1M2116.41 1016.68v-6.1M2116.41 552.08v6.1M2133.04 1016.68v-6.1M2133.04 552.08v6.1M2149.68 1016.68v-10.6M2149.68 552.08v10.6M2166.31 1016.68v-6.1M2166.31 552.08v6.1M1567.45 1016.68h10.6M2166.31 1016.68h-10.6M1567.45 1000.09h6.1M2166.31 1000.09h-6.1M1567.45 983.49h6.1M2166.31 983.49h-6.1M1567.45 966.9h6.1M2166.31 966.9h-6.1M1567.45 950.31h6.1M2166.31 950.31h-6.1M1567.45 933.72h10.6M2166.31 933.72h-10.6M1567.45 917.12h6.1M2166.31 917.12h-6.1M1567.45 900.53h6.1M2166.31 900.53h-6.1M1567.45 883.94h6.1M2166.31 883.94h-6.1M1567.45 867.34h6.1M2166.31 867.34h-6.1M1567.45 850.75h10.6M2166.31 850.75h-10.6M1567.45 834.16h6.1M2166.31 834.16h-6.1M1567.45 817.56h6.1M2166.31 817.56h-6.1M1567.45 800.97h6.1M2166.31 800.97h-6.1M1567.45 784.38h6.1M2166.31 784.38h-6.1M1567.45 767.78h10.6M2166.31 767.78h-10.6M1567.45 751.19h6.1M2166.31 751.19h-6.1M1567.45 734.6h6.1M2166.31 734.6h-6.1M1567.45 718.01h6.1M2166.31 718.01h-6.1M1567.45 701.41h6.1M2166.31 701.41h-6.1M1567.45 684.82h10.6M2166.31 684.82h-10.6M1567.45 668.23h6.1M2166.31 668.23h-6.1M1567.45 651.63h6.1M2166.31 651.63h-6.1M1567.45 635.04h6.1M2166.31 635.04h-6.1M1567.45 618.45h6.1M2166.31 618.45h-6.1M1567.45 601.86h10.6M2166.31 601.86h-10.6M1567.45 585.26h6.1M2166.31 585.26h-6.1M1567.45 568.67h6.1M2166.31 568.67h-6.1M1567.45 552.08h6.1M2166.31 552.08h-6.1" stroke="#000" stroke-width="2.9" fill="none"/>
<rect x="1567.45" y="552.08" width="598.86" height="464.6" fill="none" stroke="#000" stroke-width="3.3" stroke-linejoin="miter"/>
<text x="1567.45" y="1046.48" font-size="22.8" text-anchor="middle">0</text>
<text x="1650.62" y="1046.48" font-size="22.8" text-anchor="middle">50</text>
<text x="1733.8" y="1046.48" font-size="22.8" text-anchor="middle">100</text>
<text x="1816.98" y="1046.48" font-size="22.8" text-anchor="middle">150</text>
<text x="1900.15" y="1046.48" font-size="22.8" text-anchor="middle">200</text>
<text x="1983.33" y="1046.48" font-size="22.8" text-anchor="middle">250</text>
<text x="2066.5" y="1046.48" font-size="22.8" text-anchor="middle">300</text>
<text x="2149.68" y="1046.48" font-size="22.8" text-anchor="middle">350</text>
<text x="1555.4" y="1025.43" font-size="22.8" text-anchor="end">−100</text>
<text x="1555.4" y="942.47" font-size="22.8" text-anchor="end">−50</text>
<text x="1555.4" y="859.5" font-size="22.8" text-anchor="end">0</text>
<text x="1555.4" y="776.53" font-size="22.8" text-anchor="end">50</text>
<text x="1555.4" y="693.57" font-size="22.8" text-anchor="end">100</text>
<text x="1555.4" y="610.61" font-size="22.8" text-anchor="end">150</text>
<text x="1866.88" y="1075.08" font-size="24.45" text-anchor="middle"><tspan font-style="italic">ϕ</tspan> [deg]</text>
<text transform="translate(1481.7 784.38) rotate(-90)" font-size="24.45" text-anchor="middle">PA [deg]</text>
<text x="1617.1" y="602.38" font-size="24.6">(f)</text>
<text x="1733.95" y="602.38" font-size="30.3">No Aberration</text>
<rect x="1576.3" y="948.18" width="230.7" height="59" rx="3.6" ry="3.6" fill="#fff" fill-opacity="0.8" stroke="#cccccc" stroke-width="1.25"/>
<circle cx="1601.9" cy="964.58" r="5.6" fill="#000" fill-opacity="0.8"/>
<path d="M1607.3 991.38 L1596.5 996.78 L1596.5 985.98 Z" fill="none" stroke="#b22222" stroke-width="3.4" stroke-linejoin="round"/>
<text x="1634.2" y="969.28" font-size="18.2">Data at 430 MHz</text>
<text x="1634.2" y="996.38" font-size="18.2">r_em=8R, h=0.1R</text>
</svg>
</body></html>
